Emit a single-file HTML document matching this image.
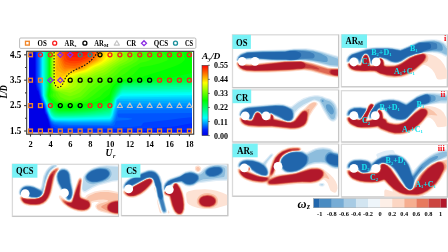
<!DOCTYPE html>
<html><head><meta charset="utf-8"><style>
html,body{margin:0;padding:0;background:#fff;}
body{width:448px;height:252px;position:relative;overflow:hidden;font-family:"Liberation Serif",serif;font-weight:bold;color:#000;}
svg{position:absolute;left:0;top:0;}
.t{font-family:"Liberation Serif",serif;font-weight:bold;}
</style></head><body>
<svg width="448" height="252" viewBox="0 0 448 252">

<svg x="28.9" y="52" width="163" height="80.6" viewBox="28.9 52 163 80.6" overflow="hidden">
<rect x="28" y="52" width="164" height="81" fill="#0000e6"/>
<path fill="#0014f5" fill-rule="evenodd" d="M191.9 132.9 51.2 132.9 50.1 126.9 48.6 122.1 48.1 119.7 46.9 117.4 46.2 114.9 45.4 114.1 44.9 112.9 44.4 109.6 43.7 107.6 43.4 105.4 43.1 104.8 41.9 104.2 41.3 103.4 40.4 99.6 39.7 97.9 39.4 95.6 38.7 93.9 38.3 91.4 38.1 91.0 37.4 90.5 36.8 89.6 36.5 88.4 36.1 85.4 35.8 84.9 35.5 84.1 35.2 78.9 35.2 52.1 191.9 52.1 191.9 132.9Z"/>
<path fill="#002bff" fill-rule="evenodd" d="M71.1 132.6 60.1 132.8 55.6 132.2 53.1 130.8 52.1 129.6 51.6 128.5 48.9 120.8 48.4 118.9 47.6 117.3 47.1 115.4 45.6 112.6 44.0 105.6 43.4 104.3 42.4 103.3 41.7 102.1 41.1 99.6 40.5 98.1 38.5 89.9 37.1 86.4 36.0 78.4 36.0 52.1 191.9 52.1 191.9 129.8 169.6 130.5 71.1 132.6Z"/>
<path fill="#0040ff" fill-rule="evenodd" d="M115.9 129.1 60.4 129.3 58.7 129.1 56.0 128.4 54.2 127.6 52.4 126.6 51.1 124.8 49.3 120.6 47.3 114.9 45.9 111.8 44.1 104.8 42.5 102.4 42.1 101.4 40.8 97.4 39.1 89.9 37.8 85.6 36.8 78.4 36.8 52.1 191.9 52.1 191.9 123.2 184.4 124.4 177.5 125.9 171.4 126.8 167.4 127.1 146.1 128.3 115.9 129.1Z"/>
<path fill="#0055ff" fill-rule="evenodd" d="M112.1 127.6 60.4 127.3 54.1 125.6 52.3 124.6 51.4 123.4 49.6 120.4 47.6 114.6 46.2 111.6 44.4 104.6 42.4 100.9 41.0 96.6 39.7 89.9 38.5 85.4 37.6 78.4 37.6 52.1 191.9 52.1 191.9 117.3 181.1 118.2 168.1 120.0 149.7 121.9 144.3 122.6 143.1 122.9 141.5 125.6 140.9 125.9 131.1 126.9 112.1 127.6Z"/>
<path fill="#006aff" fill-rule="evenodd" d="M110.9 126.1 60.4 125.7 54.4 124.6 53.2 123.9 51.4 122.2 50.2 120.6 49.0 117.9 47.9 114.6 46.5 111.4 44.7 104.6 42.7 100.6 41.1 95.6 40.1 88.7 39.3 85.4 38.4 78.4 38.4 52.1 191.9 52.1 191.9 113.1 118.6 113.4 117.9 114.6 117.7 115.6 118.0 116.6 118.6 117.4 128.1 118.1 131.8 118.6 132.2 118.9 130.0 119.6 128.1 119.9 116.6 120.7 115.5 121.9 114.8 124.4 114.3 125.1 113.1 125.8 110.9 126.1Z"/>
<path fill="#0080ff" fill-rule="evenodd" d="M109.6 124.9 70.4 124.9 60.4 124.5 55.1 123.8 54.1 123.4 51.1 121.2 50.4 120.2 49.1 117.5 48.1 114.5 46.8 111.4 45.0 104.6 43.0 100.4 41.4 95.6 39.2 78.4 39.2 52.1 191.9 52.1 191.9 109.2 118.6 109.9 117.6 111.6 116.7 114.6 116.0 118.1 114.9 120.6 112.4 123.8 110.9 124.6 109.6 124.9Z"/>
<path fill="#0095ff" fill-rule="evenodd" d="M109.6 123.6 70.4 123.8 64.9 123.6 55.1 122.8 52.1 121.3 51.1 120.6 49.1 116.8 48.1 113.7 47.0 111.1 45.3 104.6 43.1 99.9 41.8 95.6 39.9 78.4 39.9 52.1 191.9 52.1 191.9 106.1 118.6 106.7 117.4 109.3 114.3 119.6 113.5 120.9 112.1 122.2 110.6 123.3 109.6 123.6Z"/>
<path fill="#00aaff" fill-rule="evenodd" d="M92.4 122.6 70.4 122.8 55.4 122.1 52.4 120.9 51.1 119.9 49.1 116.0 48.3 113.4 47.1 110.7 45.6 104.6 43.4 99.6 42.1 95.6 41.6 91.6 41.3 85.6 40.4 78.4 40.4 52.1 191.9 52.1 191.9 103.2 118.6 103.7 117.6 105.8 116.1 110.6 113.8 118.6 112.9 120.1 111.4 121.6 110.4 122.2 109.4 122.5 92.4 122.6Z"/>
<path fill="#00bfff" fill-rule="evenodd" d="M74.1 121.9 69.4 121.9 55.1 121.4 52.4 120.3 51.6 119.8 51.1 119.2 49.4 115.8 47.2 109.9 45.9 104.6 43.7 99.6 42.7 96.6 42.4 95.4 42.0 91.6 41.7 85.4 40.9 78.4 40.9 52.1 191.9 52.1 191.9 100.4 118.6 100.9 117.6 101.5 116.9 105.9 115.1 110.9 113.8 116.1 113.2 118.1 112.1 119.9 110.4 121.2 109.4 121.5 74.1 121.9Z"/>
<path fill="#00d4ff" fill-rule="evenodd" d="M71.1 121.1 55.4 120.8 54.4 120.6 52.4 119.8 51.4 118.9 49.4 115.0 47.4 109.6 46.2 104.6 44.0 99.6 42.8 95.6 42.2 85.4 41.4 78.4 41.4 52.1 191.9 52.1 191.9 98.4 120.6 99.0 117.6 99.6 116.9 100.6 116.4 105.6 114.4 110.6 113.1 116.1 111.9 118.9 110.4 120.4 109.4 120.7 71.1 121.1Z"/>
<path fill="#00eaff" fill-rule="evenodd" d="M70.4 120.4 55.4 120.2 54.4 120.0 52.4 119.1 51.9 118.6 51.1 117.6 49.4 114.1 47.8 109.6 46.7 105.1 44.4 99.6 43.1 95.6 42.6 85.4 41.9 78.4 41.9 52.1 191.9 52.1 191.9 96.6 120.6 97.4 118.9 98.5 117.6 98.9 116.6 99.9 116.4 100.6 115.8 105.4 113.8 110.6 112.6 115.6 111.1 118.6 110.6 119.2 110.0 119.6 109.4 119.8 70.4 120.4Z"/>
<path fill="#00ffff" fill-rule="evenodd" d="M69.6 119.6 55.4 119.5 54.4 119.3 52.4 118.2 51.4 117.1 49.4 113.0 48.2 109.6 46.9 104.6 44.8 99.6 43.5 95.6 43.4 91.1 42.5 78.4 42.5 52.1 191.9 52.1 191.9 95.0 122.6 95.8 120.6 96.0 118.6 97.7 117.4 98.5 116.3 99.6 116.0 100.6 115.4 104.6 113.5 109.6 112.1 115.1 110.6 118.1 109.6 118.8 69.6 119.6Z"/>
<path fill="#00ffea" fill-rule="evenodd" d="M70.6 118.9 55.6 118.8 54.4 118.6 52.4 117.3 51.4 116.3 49.4 112.0 48.5 109.6 47.7 105.6 45.2 99.6 44.1 96.6 43.9 95.6 43.8 89.1 43.1 78.4 43.1 52.1 191.9 52.1 191.9 93.6 122.6 94.3 120.6 94.9 119.7 95.6 118.6 96.9 116.6 98.5 116.0 99.4 115.6 100.6 114.8 104.6 113.0 109.6 111.7 114.6 110.6 116.9 109.6 117.7 94.6 118.4 70.6 118.9Z"/>
<path fill="#00ffd4" fill-rule="evenodd" d="M71.9 118.1 60.1 118.2 55.1 118.0 53.6 117.3 51.4 115.4 49.8 112.1 48.9 109.6 48.1 105.6 45.6 99.6 44.5 96.6 44.3 95.6 44.4 91.6 44.3 87.1 43.7 78.4 43.7 52.1 191.9 52.1 191.9 92.1 122.6 92.8 119.6 94.7 118.1 96.5 116.6 97.8 115.7 99.1 115.2 100.6 114.4 104.4 112.5 109.6 111.2 114.1 110.6 115.6 109.6 116.6 93.9 117.5 71.9 118.1Z"/>
<path fill="#00ffbf" fill-rule="evenodd" d="M73.1 117.4 60.4 117.6 55.4 117.3 54.1 116.8 52.9 115.9 51.4 114.5 50.9 113.5 49.4 109.9 48.5 105.6 46.0 99.6 44.9 96.6 44.7 95.6 44.9 91.6 44.9 86.6 44.4 78.4 44.4 52.1 191.9 52.1 191.9 90.3 122.6 91.4 121.6 92.0 119.4 94.1 116.4 97.5 115.6 98.6 115.1 99.6 114.1 103.6 110.8 113.6 110.4 114.6 109.4 115.6 91.9 116.7 73.1 117.4Z"/>
<path fill="#00ffaa" fill-rule="evenodd" d="M60.9 116.9 55.1 116.4 54.0 115.9 51.4 113.5 49.8 109.9 48.9 105.6 46.7 100.6 45.3 96.6 45.1 95.4 45.6 86.4 45.0 78.4 45.0 52.1 191.9 52.1 191.9 88.4 123.6 90.0 122.6 90.3 121.4 91.1 118.7 93.9 115.4 98.1 114.7 99.6 113.8 103.1 110.6 112.6 109.4 114.3 99.1 115.3 86.4 116.2 79.4 116.5 60.9 116.9Z"/>
<path fill="#00ff95" fill-rule="evenodd" d="M64.1 116.1 59.4 116.2 55.4 115.7 54.1 115.1 51.9 113.1 51.1 112.2 50.5 110.6 49.3 105.6 47.1 100.6 45.7 96.6 45.5 95.4 46.2 85.6 45.7 78.4 45.7 52.1 191.9 52.1 191.9 86.6 160.6 87.6 124.6 88.5 123.6 88.8 122.4 89.3 121.1 90.2 118.1 93.6 115.2 97.6 114.4 99.4 110.6 111.1 109.4 112.9 99.9 114.2 89.4 115.1 79.4 115.7 64.1 116.1Z"/>
<path fill="#00ff80" fill-rule="evenodd" d="M64.9 115.4 59.4 115.4 55.4 114.8 54.4 114.2 52.1 112.5 51.4 111.6 50.9 110.6 49.8 105.6 47.5 100.6 46.1 96.6 45.9 95.4 46.8 85.4 46.3 78.4 46.3 52.1 191.9 52.1 191.9 85.1 124.6 87.2 122.6 88.0 120.6 89.5 117.2 93.6 115.0 97.1 114.1 98.9 110.6 109.5 109.4 111.5 100.4 113.0 89.6 114.2 79.4 114.9 64.9 115.4Z"/>
<path fill="#00ff6a" fill-rule="evenodd" d="M62.4 114.6 59.3 114.6 55.6 113.8 54.4 113.2 52.1 111.6 51.4 110.6 49.9 104.9 47.8 100.6 46.5 96.6 46.3 95.4 46.6 91.6 47.4 85.4 46.9 78.4 46.9 52.1 191.9 52.1 191.9 83.9 124.6 85.9 123.4 86.3 120.6 88.4 118.9 90.2 116.2 93.9 114.1 97.7 110.6 108.0 109.4 110.1 101.1 111.7 90.3 113.1 79.4 114.0 62.4 114.6Z"/>
<path fill="#00ff55" fill-rule="evenodd" d="M65.1 113.6 60.1 113.7 57.4 113.3 55.1 112.5 52.1 110.7 51.6 109.6 50.7 105.4 48.3 100.9 46.8 96.6 46.7 95.4 46.9 91.6 47.8 85.4 47.4 78.4 47.4 52.1 191.9 52.1 191.9 82.7 124.4 84.9 123.4 85.2 122.1 86.0 119.6 88.0 118.0 89.9 115.7 93.4 113.8 97.1 110.6 106.4 109.4 108.6 100.6 110.6 90.4 112.1 79.4 113.0 65.1 113.6Z"/>
<path fill="#00ff40" fill-rule="evenodd" d="M70.9 112.6 59.4 112.7 57.4 112.4 55.1 111.5 53.7 110.6 52.5 109.6 51.6 105.6 50.6 103.9 49.1 101.8 48.6 100.6 47.2 96.6 47.0 95.4 47.3 91.6 48.2 85.4 47.9 78.4 47.9 52.1 191.9 52.1 191.9 81.5 140.6 83.2 124.6 83.9 123.6 84.1 121.6 85.2 119.6 86.7 118.1 88.2 116.7 90.1 113.9 95.1 113.1 97.1 112.4 99.6 111.3 102.4 110.4 105.5 109.4 107.0 103.9 108.2 97.4 109.9 91.9 111.0 80.4 112.0 70.9 112.6Z"/>
<path fill="#00ff2a" fill-rule="evenodd" d="M72.6 111.6 69.4 111.8 60.1 111.7 58.1 111.6 56.1 110.9 54.5 109.6 53.6 107.9 52.9 105.6 52.3 104.6 49.4 101.3 48.9 100.6 47.6 96.6 47.4 95.4 47.7 92.4 48.6 85.6 48.4 78.4 48.4 52.1 191.9 52.1 191.9 80.3 140.6 82.1 124.6 82.9 123.6 83.1 121.4 84.1 119.4 85.5 117.6 87.2 116.1 89.1 113.0 94.9 110.4 103.3 109.4 105.3 99.6 107.3 90.4 110.0 85.5 110.6 72.6 111.6Z"/>
<path fill="#00ff15" fill-rule="evenodd" d="M70.6 110.9 59.4 110.7 58.3 110.6 57.4 110.3 56.5 109.6 53.5 104.4 49.1 100.1 48.0 96.6 47.8 95.6 48.1 92.4 48.9 88.4 49.1 85.6 48.8 78.4 48.8 52.1 191.9 52.1 191.9 78.8 183.9 79.4 140.6 81.0 123.6 82.1 121.0 83.1 118.9 84.4 117.0 86.1 115.1 88.5 113.9 90.6 112.4 93.6 111.6 96.0 110.6 100.2 109.4 102.8 103.0 104.6 95.4 106.3 89.4 108.0 82.0 109.6 70.6 110.9Z"/>
<path fill="#00ff00" fill-rule="evenodd" d="M70.4 109.6 68.4 109.6 60.4 108.6 58.9 108.1 58.1 107.4 56.9 105.6 55.1 104.3 52.7 101.9 49.6 99.4 48.4 96.4 48.2 95.4 49.2 90.6 49.5 86.4 49.3 78.4 49.3 52.1 191.9 52.1 191.9 72.9 187.6 74.1 177.1 76.3 168.5 78.4 153.7 79.4 139.6 79.9 124.6 81.0 122.1 81.5 119.9 82.4 117.9 83.6 115.2 86.1 114.0 87.6 112.8 89.6 111.7 92.1 110.4 97.2 109.4 99.9 105.9 101.3 99.4 103.2 90.4 105.3 78.9 107.4 70.4 109.6Z"/>
<path fill="#15ff00" fill-rule="evenodd" d="M69.4 106.1 65.8 105.6 60.4 105.2 59.4 104.9 56.9 103.6 55.1 102.5 51.1 98.9 49.4 96.6 49.2 95.4 49.9 92.6 50.0 91.4 49.7 78.4 49.7 52.1 183.2 52.1 184.9 59.1 184.6 60.1 181.4 62.9 177.5 65.1 173.9 66.6 161.6 70.7 144.1 76.1 140.6 77.4 139.4 78.4 132.8 79.4 123.6 80.1 120.6 80.7 118.9 81.4 117.1 82.4 114.9 84.1 112.7 86.4 111.4 88.9 109.4 94.6 107.0 96.6 103.1 99.4 100.4 100.6 88.1 103.6 69.4 106.1Z"/>
<path fill="#2aff00" fill-rule="evenodd" d="M70.4 104.1 60.4 103.6 59.4 103.4 57.4 102.3 55.5 100.9 51.4 97.2 50.8 96.4 50.6 95.4 51.6 92.4 50.7 88.4 50.1 79.4 50.1 52.1 162.8 52.1 165.5 55.4 168.1 59.1 167.5 60.1 167.0 60.4 163.4 61.9 159.1 63.4 150.9 65.5 140.6 67.3 139.6 67.8 133.4 74.2 130.9 76.1 128.2 77.9 127.3 78.4 123.4 78.9 119.1 79.8 116.9 80.7 114.1 82.3 112.8 83.4 111.6 84.6 109.4 88.3 103.8 92.4 100.1 96.4 94.8 99.6 91.9 100.6 83.9 102.5 79.4 103.2 70.4 104.1Z"/>
<path fill="#40ff00" fill-rule="evenodd" d="M71.9 102.6 69.1 102.8 60.4 102.2 59.4 101.9 57.3 100.6 54.9 98.0 53.1 96.6 52.5 95.6 53.6 92.6 53.1 91.6 52.1 90.4 51.6 89.2 51.1 87.0 50.9 84.4 50.5 78.4 50.5 52.1 150.3 52.1 151.6 59.1 150.3 60.1 146.2 61.4 140.6 62.7 136.4 65.4 131.4 68.1 127.6 71.5 124.6 73.8 120.4 76.2 117.4 78.4 112.6 80.6 109.4 83.4 105.6 85.6 100.4 89.2 97.6 91.4 93.6 95.1 90.4 97.3 87.3 99.6 84.8 100.6 80.4 101.6 71.9 102.6Z"/>
<path fill="#55ff00" fill-rule="evenodd" d="M71.1 101.4 69.1 101.5 60.4 100.8 59.4 100.4 58.6 99.6 57.6 98.0 55.8 95.6 55.7 92.6 53.3 90.4 52.2 88.6 51.5 85.6 50.9 79.4 50.9 52.1 139.5 52.1 138.7 59.1 138.1 60.1 136.4 61.5 131.4 64.5 123.2 68.4 120.6 70.4 116.9 74.2 114.1 76.3 98.4 85.7 90.4 92.1 85.7 96.6 82.1 99.1 81.2 99.6 79.4 100.2 71.1 101.4Z"/>
<path fill="#6aff00" fill-rule="evenodd" d="M70.4 99.9 69.1 99.9 65.7 99.4 62.9 98.3 60.4 97.1 58.8 95.1 57.8 92.6 54.1 90.1 53.1 88.9 52.5 87.6 51.9 85.4 51.3 78.4 51.3 52.1 133.8 52.1 133.6 59.1 132.6 60.4 127.1 63.5 119.1 67.1 117.5 68.4 113.7 72.4 110.6 74.8 105.6 77.7 99.1 80.8 95.4 83.1 89.6 87.8 82.0 95.4 80.4 96.7 72.6 99.4 70.4 99.9Z"/>
<path fill="#80ff00" fill-rule="evenodd" d="M70.6 96.2 69.4 96.3 65.6 94.9 61.4 93.1 58.4 91.5 56.1 90.7 54.2 89.1 52.9 87.1 52.4 85.4 51.7 78.4 51.7 52.1 128.0 52.1 128.5 59.1 127.8 60.1 124.6 61.9 120.4 63.9 114.6 67.4 113.2 68.4 108.7 72.4 104.6 75.0 95.3 78.4 92.6 79.6 89.3 82.1 87.9 83.6 85.9 86.4 80.4 92.0 79.4 92.8 75.6 94.5 70.6 96.2Z"/>
<path fill="#95ff00" fill-rule="evenodd" d="M70.6 92.7 69.4 92.8 66.1 91.9 60.1 91.2 57.1 90.4 56.1 89.9 54.9 88.9 54.0 87.9 53.3 86.6 53.0 85.4 52.1 78.4 52.1 52.1 123.5 52.1 123.6 59.1 122.7 60.1 119.6 61.8 114.6 65.1 110.5 67.4 106.1 70.9 103.6 72.4 95.4 75.2 91.1 77.3 86.9 78.4 84.1 79.4 82.6 82.0 81.5 85.4 80.4 86.9 78.6 88.5 76.4 90.0 73.9 91.3 70.6 92.7Z"/>
<path fill="#aaff00" fill-rule="evenodd" d="M67.6 90.1 60.4 90.3 57.4 89.7 56.4 89.3 55.4 88.5 53.8 86.4 53.5 85.4 52.6 78.4 52.6 52.1 120.3 52.1 119.2 59.1 118.5 60.1 117.4 61.0 113.4 63.6 106.7 67.4 103.6 69.5 102.1 70.2 98.6 71.6 95.4 72.7 91.1 75.1 89.6 75.7 80.4 77.9 79.2 78.4 78.1 79.4 76.7 84.9 76.6 85.4 75.8 86.4 73.4 88.0 70.4 89.6 69.4 89.9 67.6 90.1Z"/>
<path fill="#bfff00" fill-rule="evenodd" d="M63.4 89.1 60.1 89.4 57.1 88.9 56.1 88.4 55.1 87.4 54.4 86.4 54.1 85.4 53.2 78.4 53.2 52.1 117.1 52.1 116.1 59.1 115.3 60.1 114.7 60.6 106.0 65.9 95.4 70.7 90.4 73.5 89.1 74.0 80.4 76.2 76.0 78.4 74.7 79.4 72.9 83.5 71.7 85.4 71.1 85.9 69.1 87.4 67.8 88.1 65.6 88.8 63.4 89.1Z"/>
<path fill="#d4ff00" fill-rule="evenodd" d="M60.9 88.4 59.4 88.5 57.4 88.3 56.6 88.0 55.2 86.6 54.6 85.4 53.8 78.4 53.7 52.1 114.4 52.1 113.8 56.1 113.0 59.1 111.8 60.4 107.1 63.4 103.4 65.5 95.4 68.6 92.4 70.7 89.9 72.1 87.1 73.1 80.4 74.5 75.6 77.1 72.6 78.4 71.2 79.4 68.4 85.4 67.4 86.4 64.9 87.6 60.9 88.4Z"/>
<path fill="#eaff00" fill-rule="evenodd" d="M60.9 87.4 59.4 87.6 57.1 87.5 56.4 87.1 55.7 86.4 55.0 84.6 54.3 78.4 54.2 52.1 112.6 52.1 111.7 55.4 110.6 58.1 109.9 59.3 108.4 60.7 101.6 64.7 94.4 67.6 90.9 70.1 88.6 71.3 85.4 72.4 79.4 73.7 77.7 74.4 74.6 76.1 70.4 77.9 69.6 78.4 68.8 79.4 67.5 82.6 65.9 85.4 64.4 86.5 60.9 87.4Z"/>
<path fill="#ffff00" fill-rule="evenodd" d="M60.1 86.6 57.4 86.8 56.4 86.3 55.8 85.4 55.1 82.1 54.7 78.4 54.6 52.1 110.7 52.1 109.6 54.9 107.8 58.4 107.3 59.1 106.0 60.4 101.1 63.5 98.4 64.9 93.1 67.1 88.9 69.8 87.1 70.7 84.4 71.7 77.5 73.4 70.1 76.5 67.8 78.4 67.1 79.4 65.4 82.6 63.1 85.4 61.1 86.4 60.1 86.6Z"/>
<path fill="#ffea00" fill-rule="evenodd" d="M58.6 85.7 57.4 85.8 56.7 85.4 56.1 83.9 55.1 79.4 54.8 68.1 54.9 52.1 108.6 52.1 106.6 55.9 104.6 59.1 103.7 60.1 101.5 61.9 98.1 63.8 91.0 67.1 87.6 69.3 85.6 70.3 83.1 71.1 76.4 72.9 71.9 74.3 70.1 75.1 68.4 76.3 66.1 78.4 62.4 82.9 60.4 84.8 59.7 85.4 58.6 85.7Z"/>
<path fill="#ffd500" fill-rule="evenodd" d="M57.4 82.4 56.4 81.5 55.6 78.4 55.1 67.9 55.3 52.1 106.3 52.1 102.4 59.4 101.5 60.4 98.9 62.1 90.4 66.4 86.4 68.9 84.4 69.8 80.9 70.9 71.1 73.3 69.4 74.0 63.6 78.4 61.4 80.6 57.4 82.4Z"/>
<path fill="#ffbf00" fill-rule="evenodd" d="M57.1 77.1 56.4 77.4 55.6 68.4 55.8 52.1 103.9 52.1 102.3 55.4 100.7 59.1 99.9 60.1 97.1 62.0 89.6 65.7 85.4 68.4 83.1 69.4 80.4 70.3 69.4 72.7 67.6 73.6 65.1 75.5 62.1 76.6 61.1 76.8 59.1 76.8 57.1 77.1Z"/>
<path fill="#ffaa00" fill-rule="evenodd" d="M64.9 73.7 63.9 73.8 61.5 72.9 57.9 70.6 56.4 69.3 56.2 67.1 56.5 52.1 101.7 52.1 100.5 54.9 99.0 59.1 98.2 60.1 96.6 61.1 89.4 64.8 84.4 67.9 82.6 68.7 79.4 69.7 75.4 70.6 69.4 71.5 67.4 72.3 64.9 73.7Z"/>
<path fill="#ff9500" fill-rule="evenodd" d="M64.4 71.6 62.6 70.6 61.0 69.1 59.8 67.4 59.0 65.4 58.4 63.1 58.0 60.1 57.8 52.1 99.8 52.1 98.5 56.4 97.4 59.1 96.4 60.1 95.6 60.6 89.4 63.7 86.1 65.4 83.2 67.4 80.4 68.7 75.4 69.7 69.4 70.3 67.1 70.9 65.4 71.6 64.4 71.6Z"/>
<path fill="#ff8000" fill-rule="evenodd" d="M66.4 69.4 65.4 69.6 64.1 69.2 62.5 67.6 61.4 65.6 60.6 63.4 59.7 60.1 58.9 52.1 98.5 52.1 97.0 56.4 95.4 59.4 94.0 60.4 84.9 64.9 80.4 67.8 79.4 68.2 75.4 68.8 69.4 69.1 66.4 69.4Z"/>
<path fill="#ff6a00" fill-rule="evenodd" d="M74.6 67.9 65.4 67.5 64.4 66.9 62.7 64.1 61.3 60.4 60.6 57.1 60.0 52.1 97.3 52.1 96.4 54.6 94.9 57.4 93.8 59.1 92.5 60.1 83.6 64.1 79.4 66.9 74.6 67.9Z"/>
<path fill="#ff5500" fill-rule="evenodd" d="M74.9 65.9 69.4 65.5 65.4 64.5 64.9 64.1 64.1 63.1 62.7 60.1 62.0 56.9 61.1 52.1 96.1 52.1 93.7 56.6 92.4 58.4 91.4 59.4 88.4 60.9 83.1 62.8 79.4 64.8 74.9 65.9Z"/>
<path fill="#ff4000" fill-rule="evenodd" d="M75.4 63.4 70.4 63.3 69.4 63.1 65.4 61.5 64.4 60.4 64.1 59.7 62.3 52.1 94.7 52.1 93.5 54.4 92.4 55.9 90.4 58.0 88.4 59.6 87.4 60.1 83.1 61.3 79.4 62.8 75.4 63.4Z"/>
<path fill="#ff2a00" fill-rule="evenodd" d="M76.1 60.9 70.4 60.9 69.1 60.6 67.8 59.9 66.9 59.1 66.0 57.4 65.4 55.8 64.4 52.1 93.3 52.1 92.4 53.5 90.4 55.6 87.4 57.8 84.3 59.1 80.4 60.5 79.4 60.7 76.1 60.9Z"/>
<path fill="#ff1500" fill-rule="evenodd" d="M79.4 57.6 70.4 56.9 69.1 55.8 67.3 52.1 91.4 52.1 90.4 53.2 89.4 54.0 83.4 56.1 80.4 57.4 79.4 57.6Z"/>
<path fill="#ff0000" fill-rule="evenodd" d="M80.6 53.4 79.4 53.5 73.2 52.1 85.6 52.1 80.6 53.4Z"/>
</svg>
<path d="M54.1 52 L54.1 80 C54.3 85 56.5 87.5 58.8 87.3 C61.5 87 63 84 64.5 80 C66.5 75 71 71.5 77 69 C83 66.5 89 63 92.5 59 C95 56 96.5 54 97.5 52" fill="none" stroke="#111" stroke-width="1.1" stroke-dasharray="1.6 1.4"/>
<rect x="28.60" y="52.90" width="3.8" height="3.8" fill="none" stroke="#f0862a" stroke-width="1.35"/>
<circle cx="40.43" cy="54.80" r="2.0" fill="none" stroke="#fa1c1c" stroke-width="1.3"/>
<circle cx="50.36" cy="54.80" r="2.0" fill="none" stroke="#fa1c1c" stroke-width="1.3"/>
<path d="M60.29 52.30L62.79 54.80L60.29 57.30L57.79 54.80Z" fill="none" stroke="#8a2be2" stroke-width="1.3"/>
<path d="M70.22 52.30L72.72 54.80L70.22 57.30L67.72 54.80Z" fill="none" stroke="#8a2be2" stroke-width="1.3"/>
<circle cx="80.15" cy="54.80" r="2.0" fill="none" stroke="#1a8f9a" stroke-width="1.3"/>
<circle cx="90.08" cy="54.80" r="2.0" fill="none" stroke="#1a8f9a" stroke-width="1.3"/>
<circle cx="100.01" cy="54.80" r="2.0" fill="none" stroke="#000" stroke-width="1.3"/>
<circle cx="109.94" cy="54.80" r="2.0" fill="none" stroke="#fa1c1c" stroke-width="1.3"/>
<circle cx="119.87" cy="54.80" r="2.0" fill="none" stroke="#fa1c1c" stroke-width="1.3"/>
<circle cx="129.80" cy="54.80" r="2.0" fill="none" stroke="#fa1c1c" stroke-width="1.3"/>
<circle cx="139.73" cy="54.80" r="2.0" fill="none" stroke="#fa1c1c" stroke-width="1.3"/>
<circle cx="149.66" cy="54.80" r="2.0" fill="none" stroke="#fa1c1c" stroke-width="1.3"/>
<circle cx="159.59" cy="54.80" r="2.0" fill="none" stroke="#fa1c1c" stroke-width="1.3"/>
<circle cx="169.52" cy="54.80" r="2.0" fill="none" stroke="#fa1c1c" stroke-width="1.3"/>
<circle cx="179.45" cy="54.80" r="2.0" fill="none" stroke="#fa1c1c" stroke-width="1.3"/>
<circle cx="189.38" cy="54.80" r="2.0" fill="none" stroke="#fa1c1c" stroke-width="1.3"/>
<rect x="28.60" y="78.30" width="3.8" height="3.8" fill="none" stroke="#f0862a" stroke-width="1.35"/>
<rect x="38.53" y="78.30" width="3.8" height="3.8" fill="none" stroke="#f0862a" stroke-width="1.35"/>
<path d="M50.36 77.70L52.86 80.20L50.36 82.70L47.86 80.20Z" fill="none" stroke="#8a2be2" stroke-width="1.3"/>
<path d="M60.29 77.70L62.79 80.20L60.29 82.70L57.79 80.20Z" fill="none" stroke="#8a2be2" stroke-width="1.3"/>
<circle cx="70.22" cy="80.20" r="2.0" fill="none" stroke="#000" stroke-width="1.3"/>
<circle cx="80.15" cy="80.20" r="2.0" fill="none" stroke="#000" stroke-width="1.3"/>
<circle cx="90.08" cy="80.20" r="2.0" fill="none" stroke="#000" stroke-width="1.3"/>
<circle cx="100.01" cy="80.20" r="2.0" fill="none" stroke="#000" stroke-width="1.3"/>
<circle cx="109.94" cy="80.20" r="2.0" fill="none" stroke="#000" stroke-width="1.3"/>
<circle cx="119.87" cy="80.20" r="2.0" fill="none" stroke="#000" stroke-width="1.3"/>
<circle cx="129.80" cy="80.20" r="2.0" fill="none" stroke="#000" stroke-width="1.3"/>
<circle cx="139.73" cy="80.20" r="2.0" fill="none" stroke="#000" stroke-width="1.3"/>
<circle cx="149.66" cy="80.20" r="2.0" fill="none" stroke="#000" stroke-width="1.3"/>
<circle cx="159.59" cy="80.20" r="2.0" fill="none" stroke="#fa1c1c" stroke-width="1.3"/>
<circle cx="169.52" cy="80.20" r="2.0" fill="none" stroke="#fa1c1c" stroke-width="1.3"/>
<circle cx="179.45" cy="80.20" r="2.0" fill="none" stroke="#fa1c1c" stroke-width="1.3"/>
<circle cx="189.38" cy="80.20" r="2.0" fill="none" stroke="#fa1c1c" stroke-width="1.3"/>
<rect x="28.60" y="103.70" width="3.8" height="3.8" fill="none" stroke="#f0862a" stroke-width="1.35"/>
<rect x="38.53" y="103.70" width="3.8" height="3.8" fill="none" stroke="#f0862a" stroke-width="1.35"/>
<circle cx="50.36" cy="105.60" r="2.0" fill="none" stroke="#fa1c1c" stroke-width="1.3"/>
<circle cx="60.29" cy="105.60" r="2.0" fill="none" stroke="#000" stroke-width="1.3"/>
<circle cx="70.22" cy="105.60" r="2.0" fill="none" stroke="#000" stroke-width="1.3"/>
<circle cx="80.15" cy="105.60" r="2.0" fill="none" stroke="#000" stroke-width="1.3"/>
<circle cx="90.08" cy="105.60" r="2.0" fill="none" stroke="#fa1c1c" stroke-width="1.3"/>
<circle cx="100.01" cy="105.60" r="2.0" fill="none" stroke="#fa1c1c" stroke-width="1.3"/>
<circle cx="109.94" cy="105.60" r="2.0" fill="none" stroke="#fa1c1c" stroke-width="1.3"/>
<path d="M119.87 103.10L122.47 107.50L117.27 107.50Z" fill="none" stroke="#c4c4c4" stroke-width="1.15" stroke-linejoin="round"/>
<path d="M129.80 103.10L132.40 107.50L127.20 107.50Z" fill="none" stroke="#c4c4c4" stroke-width="1.15" stroke-linejoin="round"/>
<path d="M139.73 103.10L142.33 107.50L137.13 107.50Z" fill="none" stroke="#c4c4c4" stroke-width="1.15" stroke-linejoin="round"/>
<path d="M149.66 103.10L152.26 107.50L147.06 107.50Z" fill="none" stroke="#c4c4c4" stroke-width="1.15" stroke-linejoin="round"/>
<path d="M159.59 103.10L162.19 107.50L156.99 107.50Z" fill="none" stroke="#c4c4c4" stroke-width="1.15" stroke-linejoin="round"/>
<path d="M169.52 103.10L172.12 107.50L166.92 107.50Z" fill="none" stroke="#c4c4c4" stroke-width="1.15" stroke-linejoin="round"/>
<path d="M179.45 103.10L182.05 107.50L176.85 107.50Z" fill="none" stroke="#c4c4c4" stroke-width="1.15" stroke-linejoin="round"/>
<path d="M189.38 103.10L191.98 107.50L186.78 107.50Z" fill="none" stroke="#c4c4c4" stroke-width="1.15" stroke-linejoin="round"/>
<rect x="28.60" y="129.10" width="3.8" height="3.8" fill="none" stroke="#f0862a" stroke-width="1.35"/>
<rect x="38.53" y="129.10" width="3.8" height="3.8" fill="none" stroke="#f0862a" stroke-width="1.35"/>
<rect x="48.46" y="129.10" width="3.8" height="3.8" fill="none" stroke="#f0862a" stroke-width="1.35"/>
<rect x="58.39" y="129.10" width="3.8" height="3.8" fill="none" stroke="#f0862a" stroke-width="1.35"/>
<rect x="68.32" y="129.10" width="3.8" height="3.8" fill="none" stroke="#f0862a" stroke-width="1.35"/>
<rect x="78.25" y="129.10" width="3.8" height="3.8" fill="none" stroke="#f0862a" stroke-width="1.35"/>
<rect x="88.18" y="129.10" width="3.8" height="3.8" fill="none" stroke="#f0862a" stroke-width="1.35"/>
<rect x="98.11" y="129.10" width="3.8" height="3.8" fill="none" stroke="#f0862a" stroke-width="1.35"/>
<rect x="108.04" y="129.10" width="3.8" height="3.8" fill="none" stroke="#f0862a" stroke-width="1.35"/>
<rect x="117.97" y="129.10" width="3.8" height="3.8" fill="none" stroke="#f0862a" stroke-width="1.35"/>
<rect x="127.90" y="129.10" width="3.8" height="3.8" fill="none" stroke="#f0862a" stroke-width="1.35"/>
<rect x="137.83" y="129.10" width="3.8" height="3.8" fill="none" stroke="#f0862a" stroke-width="1.35"/>
<rect x="147.76" y="129.10" width="3.8" height="3.8" fill="none" stroke="#f0862a" stroke-width="1.35"/>
<rect x="157.69" y="129.10" width="3.8" height="3.8" fill="none" stroke="#f0862a" stroke-width="1.35"/>
<rect x="167.62" y="129.10" width="3.8" height="3.8" fill="none" stroke="#f0862a" stroke-width="1.35"/>
<rect x="177.55" y="129.10" width="3.8" height="3.8" fill="none" stroke="#f0862a" stroke-width="1.35"/>
<rect x="187.48" y="129.10" width="3.8" height="3.8" fill="none" stroke="#f0862a" stroke-width="1.35"/>
<rect x="26.7" y="51.3" width="167" height="82.9" fill="none" stroke="#333" stroke-width="1.1"/>
<line x1="30.50" y1="134" x2="30.50" y2="136.60" stroke="#3a3a3a" stroke-width="1.1"/>
<line x1="40.43" y1="134" x2="40.43" y2="135.70" stroke="#3a3a3a" stroke-width="1.1"/>
<line x1="50.36" y1="134" x2="50.36" y2="136.60" stroke="#3a3a3a" stroke-width="1.1"/>
<line x1="60.29" y1="134" x2="60.29" y2="135.70" stroke="#3a3a3a" stroke-width="1.1"/>
<line x1="70.22" y1="134" x2="70.22" y2="136.60" stroke="#3a3a3a" stroke-width="1.1"/>
<line x1="80.15" y1="134" x2="80.15" y2="135.70" stroke="#3a3a3a" stroke-width="1.1"/>
<line x1="90.08" y1="134" x2="90.08" y2="136.60" stroke="#3a3a3a" stroke-width="1.1"/>
<line x1="100.01" y1="134" x2="100.01" y2="135.70" stroke="#3a3a3a" stroke-width="1.1"/>
<line x1="109.94" y1="134" x2="109.94" y2="136.60" stroke="#3a3a3a" stroke-width="1.1"/>
<line x1="119.87" y1="134" x2="119.87" y2="135.70" stroke="#3a3a3a" stroke-width="1.1"/>
<line x1="129.80" y1="134" x2="129.80" y2="136.60" stroke="#3a3a3a" stroke-width="1.1"/>
<line x1="139.73" y1="134" x2="139.73" y2="135.70" stroke="#3a3a3a" stroke-width="1.1"/>
<line x1="149.66" y1="134" x2="149.66" y2="136.60" stroke="#3a3a3a" stroke-width="1.1"/>
<line x1="159.59" y1="134" x2="159.59" y2="135.70" stroke="#3a3a3a" stroke-width="1.1"/>
<line x1="169.52" y1="134" x2="169.52" y2="136.60" stroke="#3a3a3a" stroke-width="1.1"/>
<line x1="179.45" y1="134" x2="179.45" y2="135.70" stroke="#3a3a3a" stroke-width="1.1"/>
<line x1="189.38" y1="134" x2="189.38" y2="136.60" stroke="#3a3a3a" stroke-width="1.1"/>
<line x1="26.7" y1="131.00" x2="24.10" y2="131.00" stroke="#3a3a3a" stroke-width="1.1"/>
<line x1="26.7" y1="118.30" x2="25.00" y2="118.30" stroke="#3a3a3a" stroke-width="1.1"/>
<line x1="26.7" y1="105.60" x2="24.10" y2="105.60" stroke="#3a3a3a" stroke-width="1.1"/>
<line x1="26.7" y1="92.90" x2="25.00" y2="92.90" stroke="#3a3a3a" stroke-width="1.1"/>
<line x1="26.7" y1="80.20" x2="24.10" y2="80.20" stroke="#3a3a3a" stroke-width="1.1"/>
<line x1="26.7" y1="67.50" x2="25.00" y2="67.50" stroke="#3a3a3a" stroke-width="1.1"/>
<line x1="26.7" y1="54.80" x2="24.10" y2="54.80" stroke="#3a3a3a" stroke-width="1.1"/>
<text x="9.9" y="57.50" font-size="9.8" textLength="11.3" lengthAdjust="spacingAndGlyphs" class="t">4.5</text>
<text x="9.9" y="82.90" font-size="9.8" textLength="11.3" lengthAdjust="spacingAndGlyphs" class="t">3.5</text>
<text x="9.9" y="108.30" font-size="9.8" textLength="11.3" lengthAdjust="spacingAndGlyphs" class="t">2.5</text>
<text x="9.9" y="133.70" font-size="9.8" textLength="11.3" lengthAdjust="spacingAndGlyphs" class="t">1.5</text>
<text x="28.60" y="146.5" font-size="9.1" textLength="4.2" lengthAdjust="spacingAndGlyphs" class="t">2</text>
<text x="48.46" y="146.5" font-size="9.1" textLength="4.2" lengthAdjust="spacingAndGlyphs" class="t">4</text>
<text x="68.32" y="146.5" font-size="9.1" textLength="4.2" lengthAdjust="spacingAndGlyphs" class="t">6</text>
<text x="88.18" y="146.5" font-size="9.1" textLength="4.2" lengthAdjust="spacingAndGlyphs" class="t">8</text>
<text x="106.04" y="146.5" font-size="9.1" textLength="8.2" lengthAdjust="spacingAndGlyphs" class="t">10</text>
<text x="125.90" y="146.5" font-size="9.1" textLength="8.2" lengthAdjust="spacingAndGlyphs" class="t">12</text>
<text x="145.76" y="146.5" font-size="9.1" textLength="8.2" lengthAdjust="spacingAndGlyphs" class="t">14</text>
<text x="165.62" y="146.5" font-size="9.1" textLength="8.2" lengthAdjust="spacingAndGlyphs" class="t">16</text>
<text x="185.48" y="146.5" font-size="9.1" textLength="8.2" lengthAdjust="spacingAndGlyphs" class="t">18</text>
<text x="105.6" y="155.5" font-size="9.4" class="t" font-style="italic">U<tspan font-size="6" dx="0.6" dy="2">r</tspan></text>
<text transform="translate(6.6,98.6) rotate(-90)" font-size="9.8" textLength="13.4" lengthAdjust="spacingAndGlyphs" class="t" font-style="italic">L/D</text>
<defs><linearGradient id="jet" x1="0" y1="1" x2="0" y2="0">
<stop offset="0" stop-color="#0000e6"/><stop offset="0.08" stop-color="#0020ff"/><stop offset="0.25" stop-color="#00ffff"/><stop offset="0.5" stop-color="#00ff00"/><stop offset="0.75" stop-color="#ffff00"/><stop offset="0.87" stop-color="#ff8000"/><stop offset="1" stop-color="#ff0000"/></linearGradient></defs>
<rect x="202" y="65.3" width="6.1" height="70.3" fill="url(#jet)" stroke="#444" stroke-width="0.6"/>
<line x1="208.1" y1="135.60" x2="209.8" y2="135.60" stroke="#333" stroke-width="0.7"/>
<text x="213.9" y="138.60" font-size="8.6" textLength="14" lengthAdjust="spacingAndGlyphs" class="t">0.00</text>
<line x1="208.1" y1="121.54" x2="209.8" y2="121.54" stroke="#333" stroke-width="0.7"/>
<text x="213.9" y="124.54" font-size="8.6" textLength="14" lengthAdjust="spacingAndGlyphs" class="t">0.11</text>
<line x1="208.1" y1="107.48" x2="209.8" y2="107.48" stroke="#333" stroke-width="0.7"/>
<text x="213.9" y="110.48" font-size="8.6" textLength="14" lengthAdjust="spacingAndGlyphs" class="t">0.22</text>
<line x1="208.1" y1="93.42" x2="209.8" y2="93.42" stroke="#333" stroke-width="0.7"/>
<text x="213.9" y="96.42" font-size="8.6" textLength="14" lengthAdjust="spacingAndGlyphs" class="t">0.33</text>
<line x1="208.1" y1="79.36" x2="209.8" y2="79.36" stroke="#333" stroke-width="0.7"/>
<text x="213.9" y="82.36" font-size="8.6" textLength="14" lengthAdjust="spacingAndGlyphs" class="t">0.44</text>
<line x1="208.1" y1="65.30" x2="209.8" y2="65.30" stroke="#333" stroke-width="0.7"/>
<text x="213.9" y="68.30" font-size="8.6" textLength="14" lengthAdjust="spacingAndGlyphs" class="t">0.55</text>
<text x="202" y="58.9" font-size="8.6" class="t" font-style="italic" textLength="18.4" lengthAdjust="spacingAndGlyphs">A<tspan font-size="5.6" dy="2">y</tspan><tspan dy="-2">/D</tspan></text>
<rect x="19.6" y="38" width="176.3" height="10.4" rx="1.2" fill="#fff" stroke="#aaa" stroke-width="0.8"/>
<rect x="25.50" y="41.30" width="3.8" height="3.8" fill="none" stroke="#f0862a" stroke-width="1.35"/>
<text x="37.60" y="45.8" font-size="8" textLength="9.2" lengthAdjust="spacingAndGlyphs" class="t">OS</text>
<circle cx="54.70" cy="43.20" r="2.0" fill="none" stroke="#fa1c1c" stroke-width="1.3"/>
<text x="64.60" y="45.8" font-size="8" textLength="9.6" lengthAdjust="spacingAndGlyphs" class="t">AR</text>
<text x="74.40" y="47.2" font-size="4.8" class="t">s</text>
<circle cx="84.90" cy="43.20" r="2.0" fill="none" stroke="#000" stroke-width="1.3"/>
<text x="94.30" y="45.8" font-size="8" textLength="9.6" lengthAdjust="spacingAndGlyphs" class="t">AR</text>
<text x="104.10" y="47.2" font-size="4.8" class="t">M</text>
<path d="M116.80 40.70L119.40 45.10L114.20 45.10Z" fill="none" stroke="#c4c4c4" stroke-width="1.15" stroke-linejoin="round"/>
<text x="126.40" y="45.8" font-size="8" textLength="9.7" lengthAdjust="spacingAndGlyphs" class="t">CR</text>
<path d="M144.00 40.70L146.50 43.20L144.00 45.70L141.50 43.20Z" fill="none" stroke="#8a2be2" stroke-width="1.3"/>
<text x="153.80" y="45.8" font-size="8" textLength="14.5" lengthAdjust="spacingAndGlyphs" class="t">QCS</text>
<circle cx="175.50" cy="43.20" r="2.0" fill="none" stroke="#1a8f9a" stroke-width="1.3"/>
<text x="184.90" y="45.8" font-size="8" textLength="8.3" lengthAdjust="spacingAndGlyphs" class="t">CS</text>
</svg>
<svg width="448" height="252" viewBox="0 0 448 252"><defs>
<filter id="fh" x="-30%" y="-30%" width="160%" height="160%"><feGaussianBlur stdDeviation="1.5"/></filter>
<filter id="fm" x="-30%" y="-30%" width="160%" height="160%"><feGaussianBlur stdDeviation="0.8"/></filter>
<filter id="fc" x="-30%" y="-30%" width="160%" height="160%"><feGaussianBlur stdDeviation="0.45"/></filter>

<clipPath id="cpOS"><rect x="233.0" y="35.0" width="105.1" height="52.1"/></clipPath>
<clipPath id="cpARM"><rect x="341.9" y="35.0" width="105.0" height="51.3"/></clipPath>
<clipPath id="cpCR"><rect x="233.0" y="90.1" width="105.1" height="51.4"/></clipPath>
<clipPath id="cpII"><rect x="341.9" y="90.9" width="105.0" height="50.6"/></clipPath>
<clipPath id="cpARS"><rect x="233.0" y="144.2" width="105.1" height="51.5"/></clipPath>
<clipPath id="cpIII"><rect x="341.9" y="144.5" width="105.0" height="52.0"/></clipPath>
<clipPath id="cpQCS"><rect x="12.9" y="164.5" width="105.1" height="51.4"/></clipPath>
<clipPath id="cpCS"><rect x="121.9" y="164.5" width="105.4" height="50.6"/></clipPath>
</defs>
<rect x="232.5" y="34.8" width="106.1" height="52.8" fill="#fff" stroke="#dadada" stroke-width="1.3"/>
<path d="M338.6 34.8L338.6 87.6L232.5 87.6" fill="none" stroke="#c6c6c6" stroke-width="1.1"/>
<rect x="341.4" y="34.8" width="106.0" height="52.0" fill="#fff" stroke="#dadada" stroke-width="1.3"/>
<path d="M447.4 34.8L447.4 86.8L341.4 86.8" fill="none" stroke="#c6c6c6" stroke-width="1.1"/>
<rect x="232.5" y="89.9" width="106.1" height="52.1" fill="#fff" stroke="#dadada" stroke-width="1.3"/>
<path d="M338.6 89.9L338.6 142.0L232.5 142.0" fill="none" stroke="#c6c6c6" stroke-width="1.1"/>
<rect x="341.4" y="90.7" width="106.0" height="51.3" fill="#fff" stroke="#dadada" stroke-width="1.3"/>
<path d="M447.4 90.7L447.4 142.0L341.4 142.0" fill="none" stroke="#c6c6c6" stroke-width="1.1"/>
<rect x="232.5" y="144.0" width="106.1" height="52.2" fill="#fff" stroke="#dadada" stroke-width="1.3"/>
<path d="M338.6 144.0L338.6 196.2L232.5 196.2" fill="none" stroke="#c6c6c6" stroke-width="1.1"/>
<rect x="341.4" y="144.3" width="106.0" height="52.7" fill="#fff" stroke="#dadada" stroke-width="1.3"/>
<path d="M447.4 144.3L447.4 197.0L341.4 197.0" fill="none" stroke="#c6c6c6" stroke-width="1.1"/>
<rect x="12.4" y="164.3" width="106.1" height="52.1" fill="#fff" stroke="#dadada" stroke-width="1.3"/>
<path d="M118.5 164.3L118.5 216.4L12.4 216.4" fill="none" stroke="#c6c6c6" stroke-width="1.1"/>
<rect x="121.4" y="164.3" width="106.4" height="51.3" fill="#fff" stroke="#dadada" stroke-width="1.3"/>
<path d="M227.8 164.3L227.8 215.6L121.4 215.6" fill="none" stroke="#c6c6c6" stroke-width="1.1"/>
<g clip-path="url(#cpOS)">
<path fill="#fde2d4" fill-rule="evenodd" d="M338.4 77.7 335.4 77.5 328.1 76.3 310.9 71.4 303.6 70.4 288.9 71.7 267.1 72.7 254.9 72.7 246.6 72.2 242.6 71.2 239.1 69.2 237.8 67.9 236.7 66.1 236.2 64.6 236.1 63.1 236.9 62.0 238.9 61.7 241.1 61.9 245.1 63.6 248.9 63.8 255.4 63.4 269.9 61.8 284.6 61.0 301.6 60.8 312.4 62.8 328.4 67.4 332.4 67.9 338.4 68.1 338.4 77.7Z"/>
<path fill="#f9c3a9" fill-rule="evenodd" d="M338.4 77.0 335.1 76.8 328.4 75.5 311.6 70.8 304.1 69.7 289.1 70.9 267.4 72.0 254.9 72.0 246.9 71.5 242.9 70.5 239.6 68.7 237.5 66.1 236.8 64.4 236.8 63.1 237.6 62.1 239.9 62.0 244.4 64.1 249.4 64.5 255.1 64.1 271.6 62.2 284.4 61.2 301.4 61.0 312.4 63.3 328.1 67.9 331.1 68.3 338.4 68.4 338.4 77.0Z"/>
<path fill="#f19b7e" fill-rule="evenodd" d="M338.4 76.5 332.4 75.8 324.6 74.0 311.6 70.2 304.6 69.2 289.1 70.5 267.4 71.5 254.9 71.5 246.9 71.1 243.4 70.2 240.1 68.5 238.0 66.1 237.2 63.4 237.9 62.4 239.6 62.2 244.3 64.6 249.6 65.0 284.6 61.4 301.1 61.2 306.1 62.6 312.4 63.9 328.1 68.5 338.4 68.8 338.4 76.5Z"/>
<path fill="#de6852" fill-rule="evenodd" d="M338.4 76.1 333.4 75.5 311.9 69.6 305.4 68.7 292.9 69.8 274.9 70.8 255.9 71.1 247.1 70.7 243.4 69.8 240.4 68.2 238.4 65.9 237.7 64.4 237.7 63.4 238.3 62.6 239.4 62.5 243.9 64.9 246.1 65.3 249.4 65.4 255.1 65.0 284.9 61.7 301.1 61.5 306.1 63.2 312.1 64.4 327.9 69.2 338.4 69.1 338.4 76.1Z"/>
<path fill="#c73d3b" fill-rule="evenodd" d="M268.4 70.6 254.6 70.7 245.4 70.0 242.4 68.9 240.3 67.6 238.7 65.6 238.1 63.6 238.6 62.9 239.4 62.9 243.9 65.3 246.1 65.7 249.4 65.8 255.1 65.4 284.9 62.0 300.6 61.7 303.1 62.3 306.9 64.2 311.3 65.4 316.2 67.1 318.2 68.1 319.4 69.1 319.1 69.4 317.9 69.4 310.6 68.3 305.9 67.9 301.4 68.7 297.9 68.8 292.9 69.4 268.4 70.6ZM338.4 75.7 334.6 75.4 330.6 74.1 329.3 72.6 329.4 70.9 330.1 70.1 331.6 69.6 338.4 69.5 338.4 75.7Z"/>
<path fill="#b2182b" fill-rule="evenodd" d="M269.4 70.1 254.9 70.3 245.8 69.6 242.7 68.6 240.7 67.4 239.2 65.6 238.7 63.9 239.1 63.5 239.6 63.5 242.4 65.2 244.4 65.9 249.4 66.2 255.4 65.8 285.1 62.4 300.4 61.9 302.1 62.2 303.6 62.9 304.9 63.9 305.5 65.1 305.3 66.4 304.6 67.2 303.4 67.9 301.4 68.4 297.9 68.4 289.1 69.2 269.4 70.1ZM338.4 75.2 334.7 74.9 331.5 73.9 330.5 72.6 330.7 70.9 331.4 70.3 332.4 70.0 338.4 70.0 338.4 75.2Z"/>
<path fill="#e0edf7" fill-rule="evenodd" d="M338.4 67.6 329.9 66.8 312.9 62.1 301.4 60.5 271.9 61.0 249.6 59.7 244.9 60.1 240.6 61.3 238.4 61.4 237.1 61.3 236.4 60.9 236.0 59.4 236.9 56.6 239.4 53.9 241.4 52.7 247.1 50.7 262.4 50.0 285.1 49.4 293.9 48.4 306.1 48.3 312.4 49.0 318.4 50.3 322.9 51.4 332.6 54.6 338.4 56.0 338.4 67.6Z"/>
<path fill="#bad8eb" fill-rule="evenodd" d="M338.4 67.1 329.9 66.0 313.6 61.7 305.4 60.4 299.6 60.1 290.6 60.6 272.6 60.6 249.6 59.0 243.8 59.6 240.1 61.0 238.6 61.2 237.1 60.8 236.7 59.4 237.8 56.6 240.1 54.2 241.9 53.3 247.4 51.5 262.6 50.8 285.4 50.3 294.1 49.3 306.1 49.2 312.6 50.0 318.4 51.2 322.4 52.3 332.2 55.6 338.4 57.2 338.4 67.1Z"/>
<path fill="#8dbddd" fill-rule="evenodd" d="M338.4 65.7 330.1 65.1 313.6 61.0 305.6 59.9 299.6 59.8 290.6 60.4 286.1 60.2 277.1 60.3 249.6 58.5 243.4 59.2 238.9 61.0 237.6 60.6 237.2 59.4 238.2 56.9 240.4 54.6 242.1 53.7 247.4 51.9 262.6 51.3 285.4 50.8 293.9 49.8 305.6 49.8 313.4 50.8 320.9 52.7 338.4 58.8 338.4 65.7Z"/>
<path fill="#5c9ccc" fill-rule="evenodd" d="M326.6 62.1 323.9 62.1 313.1 60.2 305.4 59.3 300.1 59.4 295.6 60.0 291.1 60.2 286.1 59.9 277.6 60.0 249.4 58.1 243.1 58.9 238.9 60.7 238.0 60.4 237.6 59.4 238.5 57.1 240.6 55.0 242.4 54.0 247.6 52.3 262.9 51.6 285.4 51.3 289.6 50.5 293.4 50.2 302.9 50.3 309.6 50.9 313.7 51.6 320.5 53.6 323.5 54.9 326.4 56.6 327.5 58.1 327.8 60.6 327.3 61.6 326.6 62.1Z"/>
<path fill="#3c7eba" fill-rule="evenodd" d="M239.4 60.2 238.6 60.2 238.2 59.9 238.2 58.6 239.2 56.9 240.9 55.3 246.6 52.8 250.1 52.4 285.1 51.7 290.1 50.8 295.1 50.6 305.1 51.3 310.0 52.1 313.4 53.6 314.3 54.6 314.7 56.1 314.2 57.6 312.9 58.4 301.1 58.7 294.4 59.9 289.9 60.0 286.1 59.6 272.4 59.4 249.6 57.8 242.9 58.5 239.4 60.2Z"/>
<path fill="#2166ac" fill-rule="evenodd" d="M294.9 59.6 289.9 59.8 285.9 59.2 272.4 59.0 250.1 57.4 243.1 58.0 239.4 59.6 238.9 59.4 238.8 58.9 239.4 57.4 241.1 55.6 247.6 52.9 263.1 52.3 285.1 52.0 289.6 51.1 293.9 50.9 296.4 51.2 299.8 52.6 300.8 53.6 301.3 54.9 300.9 56.6 299.5 58.1 297.6 59.1 294.9 59.6Z"/>
<circle cx="242.2" cy="61.3" r="4.4" fill="#fff"/>
<circle cx="255.0" cy="61.3" r="4.4" fill="#fff"/>
</g>
<g clip-path="url(#cpARM)">
<path fill="#fde2d4" fill-rule="evenodd" d="M441.0 79.4 438.5 79.6 437.3 79.1 436.5 78.0 434.5 73.1 432.0 69.6 428.3 66.5 424.8 65.1 423.5 65.1 422.3 65.6 415.5 71.3 411.5 73.8 407.5 75.8 401.5 77.6 395.3 78.1 389.0 77.7 385.3 77.0 379.8 75.3 375.8 73.0 374.0 72.5 361.3 72.5 356.8 72.2 353.3 71.5 350.8 70.5 348.7 68.9 347.2 66.6 346.7 64.6 347.0 63.9 347.9 63.1 350.0 62.1 351.3 61.8 355.8 63.0 359.3 64.6 360.3 64.6 361.1 63.6 362.0 59.1 362.9 56.6 364.0 55.0 365.5 54.3 367.0 54.6 368.3 56.0 369.2 58.6 370.3 64.1 370.8 64.9 371.8 65.2 376.2 63.9 378.3 62.9 378.7 61.9 378.7 59.1 379.1 58.4 380.0 57.8 381.8 58.3 383.7 59.9 384.4 61.1 385.2 63.9 385.8 64.3 390.5 64.6 394.8 64.5 397.8 63.9 400.5 62.8 408.2 57.9 413.2 55.6 416.8 54.4 422.0 53.2 425.0 53.1 431.0 54.4 436.0 56.6 440.8 60.3 444.0 64.4 446.5 69.8 447.3 70.6 447.3 78.5 441.0 79.4Z"/>
<path fill="#f9c3a9" fill-rule="evenodd" d="M398.3 77.1 394.3 77.3 386.8 76.5 380.8 74.8 378.3 73.7 376.2 72.4 374.3 71.8 361.8 71.9 356.8 71.5 354.0 71.0 351.3 70.0 349.3 68.5 347.8 66.4 347.4 64.4 348.4 63.1 350.8 62.3 354.5 63.2 359.3 64.9 360.5 64.8 361.3 63.7 362.1 59.4 362.9 56.9 364.1 55.1 365.5 54.4 367.0 54.8 368.2 56.1 369.2 58.9 370.1 64.4 370.6 65.1 371.5 65.5 375.8 64.7 378.8 63.4 379.3 62.1 379.0 59.1 379.4 58.4 380.0 58.0 381.6 58.4 383.3 59.9 384.1 61.4 384.6 64.1 385.0 65.0 386.5 65.3 392.3 65.3 395.8 64.9 399.8 63.5 409.2 57.6 416.5 54.6 423.5 53.2 425.8 53.7 427.5 55.1 428.2 56.6 428.4 58.4 427.7 60.9 426.8 62.1 422.5 64.3 415.8 70.1 410.3 73.5 405.0 75.8 401.3 76.7 398.3 77.1Z"/>
<path fill="#f19b7e" fill-rule="evenodd" d="M397.8 76.6 394.3 76.7 386.8 75.9 380.0 74.0 376.2 71.9 374.3 71.4 361.8 71.4 356.8 71.1 354.0 70.6 351.5 69.6 349.5 68.2 348.1 66.1 347.8 64.4 348.9 63.1 350.8 62.7 359.0 65.1 360.6 65.1 361.4 63.9 362.2 59.6 363.0 57.1 364.1 55.4 365.5 54.6 367.0 55.0 368.2 56.6 369.0 59.1 369.9 64.4 370.8 65.7 372.0 65.8 375.3 65.3 379.0 63.8 379.6 62.4 379.3 58.9 379.8 58.3 380.5 58.1 382.0 58.8 383.2 60.1 383.9 61.9 384.3 64.8 384.7 65.4 386.0 65.8 389.8 65.9 394.8 65.6 398.8 64.3 402.0 62.7 409.8 57.6 416.4 54.9 423.0 53.4 424.8 53.7 426.0 54.6 426.7 55.9 426.7 57.4 426.4 58.9 425.3 60.9 423.7 62.6 416.0 69.2 411.5 72.2 406.3 74.8 401.5 76.2 397.8 76.6Z"/>
<path fill="#de6852" fill-rule="evenodd" d="M398.3 76.1 394.3 76.3 386.8 75.5 380.0 73.6 376.3 71.5 374.3 71.0 362.5 71.1 354.5 70.3 352.0 69.5 350.0 68.1 348.6 66.1 348.2 64.4 349.0 63.4 350.5 63.0 359.0 65.4 360.8 65.4 361.6 64.1 362.4 59.6 363.2 57.1 364.3 55.5 365.5 54.8 367.0 55.3 368.1 56.9 368.9 59.6 369.7 64.6 370.5 66.0 371.8 66.1 375.3 65.7 379.3 64.1 379.9 62.6 379.6 59.1 379.8 58.6 380.5 58.4 381.8 58.9 383.0 60.4 383.6 62.1 383.9 64.9 384.3 65.6 385.8 66.2 389.5 66.3 394.8 66.0 398.8 64.7 402.0 63.1 410.4 57.6 416.4 55.1 422.8 53.7 424.5 54.0 425.6 54.9 426.1 56.1 426.1 57.4 424.7 60.6 422.9 62.6 415.8 68.8 411.0 72.0 406.3 74.3 401.8 75.6 398.3 76.1Z"/>
<path fill="#c73d3b" fill-rule="evenodd" d="M395.8 75.9 386.5 75.0 380.0 73.2 376.3 71.1 374.5 70.7 370.3 70.5 364.3 70.9 357.1 70.4 354.4 69.9 352.2 69.1 350.3 67.8 349.0 66.1 348.6 64.4 349.3 63.6 350.5 63.4 359.0 65.8 360.8 65.7 361.8 64.4 362.6 59.9 363.5 57.1 364.5 55.6 365.8 55.0 367.0 55.6 368.0 57.2 368.8 60.0 369.4 64.9 369.9 65.9 370.5 66.3 372.0 66.5 375.5 66.0 379.5 64.3 380.2 62.6 379.9 59.1 380.5 58.6 381.7 59.1 382.7 60.4 383.4 62.4 383.6 65.1 384.5 66.2 386.8 66.7 393.8 66.6 397.0 65.8 400.8 64.2 409.8 58.4 415.1 55.9 422.3 54.0 424.0 54.2 425.2 55.1 425.6 56.4 425.5 57.6 424.1 60.6 422.3 62.6 414.5 69.2 410.3 71.9 405.5 74.1 400.8 75.4 395.8 75.9Z"/>
<path fill="#b2182b" fill-rule="evenodd" d="M396.3 75.4 386.8 74.5 380.0 72.9 376.3 70.7 374.3 70.2 370.0 70.1 364.8 70.6 355.1 69.6 352.6 68.9 350.8 67.7 349.5 66.1 349.1 64.6 349.8 63.9 350.8 63.8 359.0 66.2 360.3 66.2 361.0 66.0 362.2 64.4 362.8 60.4 363.7 57.4 364.7 55.9 365.8 55.4 366.9 55.9 367.8 57.4 368.5 60.3 369.1 65.1 369.6 66.1 370.5 66.8 375.5 66.4 379.8 64.5 380.5 62.9 380.3 59.4 380.8 59.0 381.8 59.5 382.6 60.6 383.1 62.4 383.4 65.4 384.5 66.6 386.8 67.2 394.0 67.0 397.3 66.3 400.8 64.8 410.2 58.6 414.8 56.4 421.8 54.4 423.5 54.5 424.8 55.4 425.1 56.4 425.1 57.6 423.5 60.6 421.6 62.6 414.2 68.9 409.8 71.6 405.5 73.6 401.0 74.9 396.3 75.4Z"/>
<path fill="#e0edf7" fill-rule="evenodd" d="M371.8 64.7 371.0 64.5 370.4 63.6 369.5 58.6 368.5 56.1 367.5 54.7 366.3 54.1 364.5 54.4 363.1 55.9 361.9 58.6 360.8 63.4 360.0 64.2 359.3 64.1 358.3 63.4 356.5 60.4 354.5 59.6 352.3 60.0 348.8 62.3 346.8 62.8 346.0 61.6 346.1 59.1 346.8 57.1 348.1 55.4 349.5 54.1 351.8 52.7 365.3 48.3 370.8 47.3 377.3 46.8 388.5 46.8 392.5 47.2 400.3 48.6 403.9 47.4 418.8 40.9 425.0 39.8 431.5 39.2 436.5 39.4 440.3 40.3 443.8 42.1 447.3 44.8 447.3 57.1 445.3 56.8 441.4 54.4 438.0 53.4 432.3 52.7 423.5 52.7 416.5 54.2 411.5 56.0 407.6 57.9 401.0 62.1 396.5 63.6 393.8 63.5 390.3 62.7 384.8 60.0 381.5 57.9 379.8 57.7 377.5 59.5 375.0 60.6 373.4 63.6 372.6 64.4 371.8 64.7Z"/>
<path fill="#bad8eb" fill-rule="evenodd" d="M372.0 64.2 371.1 64.1 370.6 63.4 369.5 58.4 368.6 55.9 367.5 54.5 366.3 53.9 364.5 54.2 362.9 55.9 361.8 58.4 360.8 62.9 360.0 63.8 358.9 63.4 357.3 60.1 355.9 59.1 354.0 58.9 352.3 59.2 351.0 60.0 349.3 61.7 347.8 62.3 347.1 62.1 346.7 61.6 346.7 59.6 347.2 58.1 348.1 56.4 349.5 54.9 351.3 53.8 366.0 48.8 371.3 48.0 376.3 47.6 387.8 47.5 392.5 48.0 400.5 49.4 407.0 46.9 418.3 41.9 426.3 40.5 433.8 40.1 439.3 41.0 443.3 43.0 447.3 46.6 447.3 56.0 445.4 55.6 441.3 53.2 437.3 52.3 432.5 51.9 423.8 52.4 416.3 54.1 411.3 55.9 407.5 57.6 401.0 61.8 396.8 63.1 394.3 63.1 390.8 62.3 381.5 57.8 379.8 57.5 377.8 58.7 374.7 59.9 373.9 60.9 372.9 63.4 372.0 64.2Z"/>
<path fill="#8dbddd" fill-rule="evenodd" d="M371.8 63.7 371.3 63.7 370.8 63.1 369.7 58.1 368.8 55.9 367.6 54.4 366.3 53.8 364.5 54.0 362.9 55.6 361.7 58.1 360.5 62.6 360.0 63.2 359.2 62.9 357.5 59.6 355.9 58.6 354.0 58.4 352.0 58.8 350.7 59.6 349.0 61.4 348.0 61.8 347.3 61.3 347.2 59.6 347.8 57.9 348.7 56.4 351.5 54.2 366.3 49.3 371.5 48.4 376.5 48.0 387.8 48.0 392.0 48.4 400.5 49.9 413.6 44.6 418.5 42.3 427.0 41.0 434.3 40.8 439.5 41.9 443.3 44.1 446.3 47.9 447.3 48.5 447.3 54.7 445.8 54.4 441.5 52.4 436.8 51.5 432.3 51.3 423.8 52.1 416.0 54.0 411.0 55.7 407.4 57.4 400.8 61.6 398.3 62.5 396.3 62.8 394.0 62.6 390.8 61.8 386.2 59.4 381.3 57.5 380.0 57.3 374.5 59.4 373.5 60.5 372.5 63.1 371.8 63.7Z"/>
<path fill="#5c9ccc" fill-rule="evenodd" d="M371.8 63.0 371.3 63.0 370.9 62.4 369.9 58.1 368.8 55.6 367.8 54.3 366.3 53.5 364.5 53.8 363.0 55.1 361.9 57.1 360.0 62.4 359.4 62.1 357.7 59.1 355.7 58.1 353.8 58.0 351.8 58.5 350.5 59.2 348.3 61.2 347.8 60.7 347.7 59.6 348.2 58.1 349.0 56.7 351.8 54.5 366.0 49.7 371.5 48.8 376.3 48.4 387.8 48.4 392.0 48.8 400.5 50.3 413.5 45.1 418.3 42.7 420.3 42.2 429.5 41.4 433.0 41.4 436.3 41.8 438.9 42.6 440.6 43.6 442.0 45.1 442.7 46.9 442.8 49.6 442.0 50.7 433.0 50.6 427.5 51.2 423.5 51.9 419.5 53.2 416.0 53.7 408.0 56.7 401.5 60.9 398.0 62.2 395.3 62.4 391.8 61.7 389.8 61.0 386.3 59.0 380.0 57.1 374.3 59.0 373.2 60.1 371.8 63.0Z"/>
<path fill="#3c7eba" fill-rule="evenodd" d="M397.8 61.9 395.3 62.0 392.0 61.4 390.0 60.6 386.3 58.6 380.0 56.9 374.3 58.6 373.1 59.6 371.5 62.1 371.0 61.5 369.9 57.4 369.0 55.4 367.6 53.9 366.0 53.3 364.3 53.6 362.9 54.9 361.8 56.6 360.0 61.2 359.5 61.1 357.7 58.6 355.5 57.7 353.8 57.6 352.0 57.9 348.8 59.8 348.5 59.1 348.8 57.9 349.7 56.6 352.4 54.6 365.3 50.4 368.3 49.7 376.8 48.8 388.3 48.8 392.5 49.2 400.3 50.7 404.3 49.4 414.3 45.2 418.3 43.1 420.0 42.5 428.3 42.1 432.3 42.2 435.3 42.9 436.5 43.6 437.0 44.4 437.3 47.4 437.0 48.4 436.2 49.1 424.5 51.2 420.0 52.9 415.0 53.8 407.8 56.5 401.2 60.6 397.8 61.9Z"/>
<path fill="#2166ac" fill-rule="evenodd" d="M396.5 61.6 394.5 61.5 391.8 60.9 386.5 58.2 380.3 56.6 374.5 57.9 373.3 58.7 371.5 60.6 369.0 54.9 367.5 53.4 366.0 53.0 364.3 53.3 362.9 54.4 361.7 56.1 360.0 60.0 359.5 59.9 357.5 57.9 355.8 57.3 353.3 57.2 350.0 58.0 349.8 57.6 350.9 56.1 353.0 54.8 365.8 50.7 368.3 50.1 376.8 49.2 388.3 49.2 392.3 49.6 400.5 51.1 414.0 45.7 419.5 42.9 428.3 43.1 430.0 43.6 430.8 44.4 431.1 45.9 431.0 47.4 430.5 48.4 429.4 49.1 424.0 50.8 420.4 52.6 415.8 53.2 409.0 55.5 406.8 56.5 400.3 60.6 396.5 61.6Z"/>
<circle cx="353.8" cy="62.0" r="4.4" fill="#fff"/>
<circle cx="376.2" cy="61.8" r="4.4" fill="#fff"/>
</g>
<g clip-path="url(#cpCR)">
<path fill="#fde2d4" fill-rule="evenodd" d="M293.9 130.0 290.4 129.9 272.4 127.9 258.9 128.0 252.4 127.7 247.6 127.1 244.1 125.8 241.4 123.9 239.5 121.2 239.0 119.7 239.0 118.2 239.8 117.2 242.1 117.1 243.9 117.6 249.4 120.1 251.1 120.2 252.5 119.0 255.1 113.2 256.4 112.1 257.9 111.9 259.9 112.8 262.9 116.1 266.1 117.7 267.6 118.0 268.9 117.7 269.8 114.7 270.6 114.0 271.4 113.9 273.3 115.2 274.9 117.7 275.4 118.1 279.4 119.1 286.4 121.5 288.4 121.9 290.4 121.7 292.1 121.1 293.8 120.0 299.8 111.7 304.0 108.7 308.3 104.5 311.1 102.7 313.6 101.7 315.4 101.7 316.9 102.5 317.7 103.5 317.6 104.7 313.4 110.2 309.6 116.5 308.2 122.0 306.6 125.0 304.1 127.1 300.6 128.8 297.9 129.6 293.9 130.0Z"/>
<path fill="#f9c3a9" fill-rule="evenodd" d="M294.4 129.2 290.4 129.2 272.1 127.2 259.1 127.3 252.9 127.0 247.9 126.4 244.6 125.3 241.9 123.5 240.2 121.0 239.7 118.5 240.4 117.5 241.9 117.4 249.1 120.3 251.1 120.4 252.6 119.2 254.3 115.0 255.3 113.2 256.6 112.2 257.9 112.0 259.6 112.8 262.6 116.2 266.1 118.5 268.1 118.7 269.4 118.3 270.1 114.7 270.6 114.2 271.4 114.1 273.3 115.5 274.4 118.1 275.1 118.7 279.6 119.6 286.9 121.8 290.6 121.9 292.5 121.2 294.4 120.0 300.6 112.0 302.4 110.5 305.3 109.0 309.6 104.5 311.7 103.2 313.6 102.5 314.9 102.5 316.0 103.0 316.4 103.7 316.1 104.7 312.2 109.7 308.9 115.8 307.7 121.2 306.0 124.5 303.9 126.4 300.6 128.1 297.9 128.8 294.4 129.2Z"/>
<path fill="#f19b7e" fill-rule="evenodd" d="M294.6 128.7 290.9 128.8 272.1 126.7 259.1 126.8 252.9 126.5 248.1 125.9 244.9 124.9 242.4 123.2 240.7 121.0 240.2 118.7 240.6 118.0 241.6 117.8 249.1 120.5 251.4 120.5 252.8 119.2 255.4 113.5 256.5 112.5 257.9 112.2 259.6 113.0 263.6 117.5 266.1 119.0 268.1 119.1 269.7 118.7 270.1 117.7 270.3 115.0 270.7 114.5 271.4 114.3 272.4 114.8 273.2 115.7 273.9 118.2 274.6 119.0 280.1 120.1 286.9 122.1 290.4 122.2 292.9 121.4 294.9 120.1 299.8 113.5 302.1 111.3 304.4 110.2 307.5 109.5 308.9 108.9 309.4 109.0 309.0 113.0 307.5 120.2 306.7 122.5 305.8 124.0 303.9 125.9 300.6 127.6 298.1 128.3 294.6 128.7Z"/>
<path fill="#de6852" fill-rule="evenodd" d="M295.6 128.2 290.9 128.4 271.9 126.3 259.1 126.4 248.4 125.6 245.1 124.6 242.9 123.1 241.2 121.0 240.7 119.0 241.1 118.4 241.9 118.3 245.4 119.7 248.9 120.7 251.4 120.8 252.9 119.5 254.6 115.2 255.6 113.5 256.6 112.7 257.9 112.5 259.5 113.2 263.4 117.8 265.9 119.3 267.9 119.6 269.9 119.1 270.4 118.2 270.6 115.2 270.9 114.7 271.4 114.6 272.9 115.7 273.6 118.5 274.4 119.3 287.1 122.4 290.4 122.4 293.1 121.6 295.1 120.3 300.2 113.7 302.4 111.6 304.6 110.6 306.6 110.9 307.7 112.2 308.0 114.0 307.2 120.0 305.9 123.2 304.1 125.2 301.9 126.5 298.9 127.7 295.6 128.2Z"/>
<path fill="#c73d3b" fill-rule="evenodd" d="M294.1 128.0 290.9 128.0 272.1 125.9 259.1 126.0 248.6 125.2 245.9 124.5 243.6 123.2 241.9 121.4 241.2 119.5 241.5 119.0 242.1 118.9 245.4 120.1 248.9 121.1 250.4 121.2 251.6 121.0 253.2 119.5 255.6 113.9 256.6 113.0 257.9 112.7 259.7 113.7 263.4 118.3 265.9 119.7 268.4 119.9 270.2 119.5 270.7 118.5 270.9 115.5 271.1 115.0 271.6 114.9 272.8 116.0 273.4 119.0 274.1 119.7 287.1 122.6 290.6 122.7 293.4 121.9 295.4 120.6 300.5 114.0 302.6 111.8 304.6 111.0 306.4 111.5 307.3 112.7 307.4 114.7 306.7 120.2 305.2 123.5 303.4 125.2 300.4 126.8 297.9 127.6 294.1 128.0Z"/>
<path fill="#b2182b" fill-rule="evenodd" d="M294.9 127.5 290.9 127.5 271.9 125.4 259.1 125.6 248.9 124.8 246.1 124.1 244.0 123.0 242.5 121.5 242.0 120.0 242.1 119.7 242.9 119.7 249.4 121.5 251.9 121.3 253.5 119.7 255.9 114.2 256.9 113.2 257.9 113.1 259.6 114.1 263.1 118.7 265.9 120.2 268.6 120.3 270.6 119.8 271.1 119.0 271.2 116.0 271.6 115.4 272.2 115.7 272.6 116.5 273.0 119.5 273.9 120.1 287.4 123.0 290.9 123.1 293.6 122.3 295.6 121.0 300.6 114.4 302.8 112.2 304.4 111.5 305.9 111.8 306.8 113.0 307.0 114.7 306.4 119.7 305.1 123.0 303.4 124.7 300.6 126.2 298.1 127.1 294.9 127.5Z"/>
<path fill="#e0edf7" fill-rule="evenodd" d="M333.1 121.7 330.6 121.1 328.1 118.7 323.0 110.2 319.4 102.9 317.8 101.7 314.9 100.7 313.1 100.9 310.1 102.3 299.2 109.0 295.4 113.2 294.5 117.5 293.5 119.5 291.9 120.8 289.9 121.5 287.1 121.5 283.2 120.2 275.4 116.7 272.8 114.5 271.4 113.7 270.4 113.8 268.4 115.4 264.6 116.1 263.4 115.9 262.1 115.1 259.8 112.5 257.9 111.7 256.4 111.9 255.1 112.9 254.0 114.7 252.2 119.0 251.5 119.7 250.6 120.0 248.9 119.6 246.4 117.6 244.6 116.7 239.4 116.3 238.7 115.5 238.6 114.2 239.3 111.7 241.1 109.2 243.4 107.6 246.6 106.4 250.9 105.7 278.4 103.6 283.6 104.1 290.9 106.6 291.9 106.1 297.6 101.4 303.6 98.1 310.4 95.9 314.4 95.2 317.9 95.2 322.1 95.9 325.6 97.6 330.6 99.1 333.9 101.6 336.1 104.5 338.4 110.7 338.4 114.2 337.0 118.5 336.2 120.0 334.9 121.2 333.1 121.7Z"/>
<path fill="#bad8eb" fill-rule="evenodd" d="M290.1 121.3 287.4 121.3 283.9 120.3 275.1 116.0 271.4 113.5 270.4 113.6 268.6 114.7 266.4 114.9 264.1 115.7 263.1 115.6 262.1 114.9 259.9 112.3 258.1 111.5 256.6 111.6 255.1 112.7 254.0 114.5 252.1 118.8 251.4 119.6 250.6 119.8 249.1 119.5 246.8 117.2 245.0 116.2 243.9 116.1 241.4 116.3 240.1 116.1 239.4 115.2 239.3 114.0 240.3 111.2 242.6 108.9 245.9 107.3 249.6 106.6 279.1 104.4 283.9 104.9 290.4 107.4 291.9 107.6 298.1 102.7 302.8 100.0 308.9 97.6 314.9 96.5 317.9 96.6 322.1 97.2 325.4 98.6 330.1 100.1 332.1 101.5 334.1 103.5 335.4 105.5 336.3 107.7 336.9 112.7 336.0 118.0 335.4 119.2 334.3 120.2 332.9 120.6 331.6 120.4 329.9 119.2 328.4 117.2 324.4 110.5 319.9 102.0 318.6 101.0 315.9 99.9 314.6 99.6 313.4 99.8 303.6 104.6 297.9 108.4 294.7 112.2 294.1 117.0 293.3 119.0 292.0 120.5 290.1 121.3Z"/>
<path fill="#8dbddd" fill-rule="evenodd" d="M333.1 119.2 331.7 119.0 330.5 118.0 326.4 111.6 322.5 104.2 320.3 101.0 320.2 99.7 321.1 98.7 322.1 98.4 323.1 98.6 325.6 99.9 329.5 101.2 331.9 103.0 333.9 105.4 335.3 109.0 335.6 113.2 334.9 117.5 334.1 118.7 333.1 119.2ZM290.1 121.0 287.6 121.2 284.4 120.2 278.9 117.2 274.6 115.3 271.4 113.3 270.4 113.3 268.6 114.3 266.4 114.4 264.1 115.2 263.1 115.3 262.1 114.6 260.0 112.2 258.1 111.3 256.6 111.4 255.1 112.5 253.7 114.5 251.9 118.7 250.6 119.6 249.2 119.2 247.1 116.9 245.1 115.8 243.9 115.6 241.4 116.0 240.4 115.7 239.8 115.0 239.8 114.0 240.6 111.7 242.1 109.9 244.4 108.4 247.4 107.4 250.6 106.9 275.6 104.9 282.4 105.1 287.4 106.6 292.6 108.9 293.6 110.0 293.8 111.2 293.8 115.2 293.5 117.7 292.1 120.0 290.1 121.0Z"/>
<path fill="#5c9ccc" fill-rule="evenodd" d="M323.1 102.0 322.4 101.9 321.8 101.2 321.7 100.5 322.1 100.0 322.9 99.9 323.6 100.5 323.7 101.5 323.1 102.0ZM332.6 114.3 331.6 114.4 330.4 114.0 327.5 110.7 326.3 108.5 325.9 106.7 325.9 105.5 326.6 104.5 327.9 104.2 329.6 104.6 331.4 105.9 332.6 107.5 333.5 109.5 333.9 111.5 333.5 113.2 332.6 114.3ZM290.1 120.7 287.9 120.9 284.9 120.1 279.1 116.9 274.6 114.9 271.4 113.1 263.1 114.9 262.3 114.5 260.1 112.0 258.1 111.1 256.4 111.3 254.9 112.4 253.5 114.5 251.9 118.4 250.6 119.3 249.4 118.9 247.4 116.6 245.4 115.4 244.1 115.2 241.9 115.6 240.8 115.5 240.3 114.7 240.3 113.7 241.1 111.7 242.6 110.0 244.9 108.6 247.6 107.8 275.6 105.3 282.4 105.5 285.4 106.3 288.1 107.4 291.4 109.1 292.7 110.5 293.4 113.5 293.2 117.2 292.1 119.5 290.1 120.7Z"/>
<path fill="#3c7eba" fill-rule="evenodd" d="M289.9 120.5 287.6 120.6 285.1 119.9 279.1 116.4 271.4 112.8 270.4 112.8 268.6 113.5 266.1 113.7 263.1 114.5 262.4 114.1 260.1 111.7 258.1 110.9 256.4 111.0 254.7 112.2 253.5 114.0 251.6 118.2 250.6 119.0 249.6 118.7 247.9 116.5 246.4 115.5 244.4 114.8 241.4 115.1 240.8 114.7 240.7 113.7 241.5 111.7 243.1 110.1 245.4 108.8 248.1 108.1 275.6 105.7 282.1 105.9 285.1 106.6 288.1 107.8 290.9 109.3 292.1 110.7 292.9 113.5 292.9 117.0 291.8 119.2 289.9 120.5Z"/>
<path fill="#2166ac" fill-rule="evenodd" d="M289.1 120.3 287.4 120.2 285.0 119.5 279.4 116.1 271.6 112.6 270.6 112.5 268.6 113.1 266.1 113.2 263.1 114.1 260.1 111.4 258.1 110.5 256.1 110.8 254.5 112.0 253.3 113.7 251.4 117.9 250.6 118.5 249.8 118.2 248.1 116.2 246.6 115.1 244.4 114.3 241.6 114.5 241.2 113.5 242.1 111.7 243.6 110.3 245.9 109.1 248.4 108.5 275.6 106.1 282.1 106.3 285.4 107.1 288.5 108.5 290.6 109.7 291.8 111.2 292.6 114.2 292.4 117.2 291.1 119.3 289.1 120.3Z"/>
<circle cx="245.2" cy="115.8" r="4.4" fill="#fff"/>
<circle cx="266.0" cy="115.8" r="4.4" fill="#fff"/>
</g>
<g clip-path="url(#cpII)">
<path fill="#fde2d4" fill-rule="evenodd" d="M398.8 135.0 394.3 134.9 388.8 133.6 381.3 130.7 376.8 128.2 369.5 128.9 364.0 129.0 358.0 128.4 354.8 127.7 350.5 125.6 348.3 123.8 346.5 120.8 346.1 119.3 346.1 118.0 346.6 117.3 347.5 116.8 351.0 116.4 356.0 117.7 359.3 119.4 360.5 119.3 361.8 118.0 366.4 110.5 367.5 106.8 368.2 105.5 369.8 103.6 371.5 103.0 373.5 103.8 374.0 104.5 374.0 105.5 369.5 112.9 367.5 118.8 367.5 119.3 367.9 119.5 371.0 119.3 375.8 117.1 377.8 110.5 378.5 109.6 379.8 109.3 381.4 110.0 382.9 112.0 383.7 114.0 384.3 117.2 387.0 118.7 388.7 121.3 390.8 122.0 394.5 122.7 397.3 122.8 399.5 122.5 403.3 121.4 406.5 119.7 415.0 111.5 420.5 107.0 421.8 106.6 429.0 106.1 432.0 106.4 435.5 107.3 438.3 108.4 440.8 109.8 443.8 112.8 446.5 118.0 447.3 118.9 447.3 125.8 444.3 126.7 438.8 127.2 437.5 126.9 436.8 126.3 434.8 122.2 432.5 119.5 430.0 117.8 428.0 117.4 427.0 118.0 421.0 124.9 414.8 129.9 410.8 132.1 406.8 133.7 402.5 134.7 398.8 135.0Z"/>
<path fill="#f9c3a9" fill-rule="evenodd" d="M399.3 134.3 394.5 134.2 389.0 132.9 380.8 129.7 377.3 127.5 369.8 128.2 364.5 128.3 358.5 127.9 355.3 127.1 351.3 125.3 349.0 123.5 347.2 120.8 346.7 119.3 346.8 118.0 347.9 117.0 350.3 116.7 355.8 118.2 359.0 119.6 360.8 119.3 361.9 118.0 366.6 110.5 368.3 106.0 369.9 104.0 371.3 103.4 373.3 104.1 373.8 104.8 373.8 105.8 369.6 112.5 366.9 119.3 367.0 120.2 370.8 119.6 376.3 117.6 377.8 110.9 378.3 110.0 379.3 109.6 380.5 109.9 381.9 111.3 383.1 113.8 383.6 117.5 386.5 119.1 388.0 121.8 389.8 122.5 394.5 123.4 397.3 123.5 400.0 123.0 403.0 122.0 405.5 120.7 408.3 118.6 415.5 111.5 419.8 108.2 421.5 107.4 425.8 107.5 429.2 108.8 433.8 111.5 437.1 115.0 437.3 115.3 436.8 115.5 431.5 114.9 429.0 115.2 427.0 116.8 420.9 124.0 415.0 128.9 410.5 131.4 406.8 132.9 402.8 133.9 399.3 134.3Z"/>
<path fill="#f19b7e" fill-rule="evenodd" d="M399.5 133.8 394.5 133.7 389.0 132.4 380.8 129.2 377.5 127.0 368.0 127.9 361.0 127.8 356.8 127.2 352.8 125.6 349.8 123.7 347.8 121.0 347.2 119.5 347.2 118.3 348.0 117.3 349.8 117.1 355.3 118.4 359.0 119.8 360.8 119.4 361.9 118.3 366.6 110.8 368.7 106.0 370.0 104.4 371.3 103.8 372.3 103.9 373.3 104.4 373.7 105.3 373.6 106.0 369.6 112.3 366.5 119.3 366.3 120.3 366.5 120.6 367.3 120.7 370.8 119.9 376.4 118.0 377.0 117.0 377.9 111.0 378.5 110.1 379.5 109.8 381.0 110.6 382.4 112.8 382.9 114.5 383.3 117.9 386.3 119.5 387.5 122.1 389.9 123.0 394.3 123.8 398.8 123.8 402.2 122.8 404.3 121.8 407.8 119.4 415.5 111.9 420.8 108.3 422.5 107.9 424.5 108.0 426.0 108.6 427.3 109.6 427.9 110.5 428.3 112.0 428.3 113.5 427.8 114.8 423.9 120.0 419.0 125.1 415.0 128.3 410.0 131.1 405.3 132.9 399.5 133.8Z"/>
<path fill="#de6852" fill-rule="evenodd" d="M400.5 133.3 395.3 133.4 389.5 132.1 381.0 128.8 378.3 126.7 377.5 126.5 368.8 127.5 361.3 127.5 357.5 127.1 353.0 125.3 350.1 123.5 348.1 120.8 347.6 119.3 347.6 118.3 348.4 117.5 349.8 117.4 358.8 119.9 359.8 120.0 360.9 119.5 362.1 118.3 366.8 110.8 368.6 106.5 370.0 104.7 371.3 104.0 373.0 104.6 373.5 105.3 373.4 106.0 369.8 111.5 366.3 119.1 365.9 120.5 366.5 121.2 370.8 120.2 376.7 118.3 377.3 117.1 378.0 111.3 378.6 110.3 379.5 110.0 381.0 111.0 382.2 113.0 383.0 118.2 385.9 119.8 387.4 122.5 389.3 123.3 393.3 124.1 396.5 124.4 398.8 124.2 403.0 122.9 406.3 120.9 415.0 112.8 420.5 108.9 422.3 108.4 424.0 108.5 425.5 109.0 426.8 109.9 427.7 112.0 427.6 113.5 427.2 114.8 423.6 119.8 419.0 124.6 414.8 128.0 410.0 130.7 405.8 132.3 400.5 133.3Z"/>
<path fill="#c73d3b" fill-rule="evenodd" d="M399.0 133.0 394.3 132.9 388.8 131.5 381.0 128.4 378.5 126.4 377.8 126.1 369.0 127.1 361.3 127.3 357.8 126.9 353.2 125.0 350.5 123.4 348.5 120.9 348.0 119.5 348.0 118.5 348.5 117.9 349.8 117.8 358.5 120.2 359.8 120.1 361.0 119.6 362.2 118.5 367.0 110.8 368.9 106.5 370.3 104.8 371.3 104.3 372.9 104.8 373.2 105.3 373.2 106.0 369.6 111.5 365.9 119.3 365.6 120.8 366.3 121.6 368.0 121.3 376.8 118.7 377.5 117.3 378.3 111.3 378.8 110.5 379.5 110.3 380.9 111.3 382.0 113.3 382.8 118.5 385.6 120.0 387.0 122.8 389.3 123.7 393.3 124.5 396.5 124.8 398.8 124.6 403.3 123.2 406.5 121.2 415.0 113.2 420.3 109.5 422.0 108.9 423.8 108.9 425.3 109.3 426.5 110.3 427.1 111.3 427.3 112.5 427.1 113.8 426.4 115.3 421.5 121.6 417.1 125.8 413.8 128.2 408.8 130.8 404.8 132.2 399.0 133.0Z"/>
<path fill="#b2182b" fill-rule="evenodd" d="M399.8 132.5 394.8 132.5 389.5 131.3 381.3 128.1 378.9 126.0 378.0 125.7 372.5 126.4 364.0 126.7 361.5 127.1 358.0 126.8 352.8 124.3 350.8 123.1 349.0 120.9 348.5 118.8 349.0 118.3 350.3 118.3 358.5 120.5 361.3 119.7 362.4 118.5 367.2 110.8 369.2 106.5 370.5 104.9 371.5 104.5 372.8 105.0 373.0 106.0 369.7 111.0 365.7 119.3 365.3 121.0 366.0 121.9 367.8 121.8 377.0 119.0 377.8 117.3 378.4 111.5 378.9 110.8 379.5 110.7 380.8 111.6 381.8 113.5 382.5 118.8 385.3 120.3 386.2 122.5 386.8 123.2 389.3 124.1 393.3 124.9 396.8 125.2 399.0 125.0 403.3 123.6 406.5 121.7 415.0 113.8 420.3 109.9 421.8 109.3 423.5 109.2 425.0 109.7 426.1 110.5 426.7 111.5 426.8 112.8 426.0 115.2 421.3 121.2 417.3 125.0 414.0 127.5 409.5 130.0 405.3 131.6 399.8 132.5Z"/>
<path fill="#e0edf7" fill-rule="evenodd" d="M402.0 121.1 396.8 120.9 394.3 120.2 391.5 118.9 388.8 116.8 383.3 110.0 382.3 109.3 380.8 109.0 379.0 109.1 378.0 109.8 376.3 113.6 373.8 115.5 372.7 117.5 371.7 118.5 370.5 119.0 369.3 119.0 368.5 118.4 368.4 117.3 369.8 112.7 373.9 106.3 374.7 103.3 377.5 101.4 382.0 99.6 387.5 98.7 393.5 98.6 399.3 99.8 406.0 102.6 407.3 102.0 416.3 95.9 420.3 94.1 424.3 92.9 426.8 92.6 433.5 92.6 447.3 93.6 447.3 103.7 440.0 103.6 429.8 104.8 424.5 105.9 421.0 106.0 418.7 107.5 407.0 118.9 404.8 120.3 402.0 121.1ZM360.5 119.1 359.8 119.2 359.0 119.0 356.0 116.0 354.5 115.3 352.5 115.2 348.3 116.2 346.5 116.2 346.0 115.5 345.8 114.3 346.8 111.0 348.0 109.5 349.8 108.1 351.8 107.1 354.0 106.4 360.3 106.2 366.3 106.9 366.9 108.3 366.5 110.0 361.8 117.7 360.5 119.1Z"/>
<path fill="#bad8eb" fill-rule="evenodd" d="M402.3 120.6 399.8 120.6 396.5 120.2 391.5 118.1 389.2 116.3 384.0 109.6 383.0 108.8 382.0 108.5 379.5 108.7 378.0 109.5 376.3 112.9 373.2 115.0 372.1 117.5 371.3 118.4 370.3 118.7 369.3 118.4 368.8 117.5 368.8 116.5 370.2 112.0 374.0 106.5 375.0 104.0 377.5 102.2 382.5 100.2 389.5 99.2 393.8 99.4 399.3 100.6 406.0 103.5 407.2 103.0 416.8 96.4 419.8 95.1 424.5 93.6 427.0 93.3 433.8 93.6 447.3 94.8 447.3 102.5 439.8 102.4 430.5 104.0 424.8 105.4 421.0 105.6 418.2 107.5 407.0 118.6 404.8 120.0 402.3 120.6ZM360.0 119.0 358.8 118.5 356.5 115.5 354.8 114.6 352.5 114.5 348.5 115.9 347.1 115.8 346.6 115.0 346.6 113.8 347.6 111.0 348.8 109.7 350.3 108.6 352.3 107.7 354.3 107.1 360.5 106.9 365.0 107.4 366.3 107.8 366.6 109.0 366.1 110.5 361.5 117.9 360.0 119.0Z"/>
<path fill="#8dbddd" fill-rule="evenodd" d="M403.0 120.1 400.5 120.2 397.0 119.8 394.8 119.2 392.0 117.9 389.6 116.0 384.3 109.2 383.3 108.4 382.0 108.0 379.8 108.4 378.0 109.3 376.0 112.7 372.8 114.8 371.7 117.3 371.0 118.1 370.3 118.3 369.5 117.9 369.1 116.0 370.5 111.8 374.1 106.5 375.3 104.3 378.0 102.5 382.8 100.6 389.5 99.7 393.8 99.8 399.3 101.1 406.0 104.1 407.3 103.6 417.0 96.8 420.3 95.4 425.0 94.0 427.3 93.8 430.0 94.3 434.5 94.5 441.0 95.9 447.3 96.6 447.3 100.6 441.0 100.6 425.3 104.9 421.8 105.0 420.3 105.6 416.0 109.0 407.5 117.9 405.3 119.4 403.0 120.1ZM360.0 118.8 359.0 118.3 356.8 115.0 355.0 114.2 352.5 114.1 348.8 115.5 347.5 115.4 347.1 114.8 347.1 113.8 347.9 111.5 348.9 110.3 350.3 109.2 352.3 108.2 354.3 107.6 360.5 107.4 366.0 108.2 366.4 109.3 365.8 110.8 361.5 117.6 360.8 118.5 360.0 118.8Z"/>
<path fill="#5c9ccc" fill-rule="evenodd" d="M402.0 119.8 396.8 119.4 392.0 117.4 390.0 115.8 384.5 108.9 383.5 108.0 382.3 107.6 380.3 107.8 378.0 108.9 376.0 112.3 372.4 114.5 370.8 117.6 370.3 117.7 369.7 117.3 369.5 115.3 370.8 111.6 375.5 104.6 378.0 102.9 382.5 101.1 389.0 100.2 393.5 100.2 399.0 101.5 405.0 104.3 406.0 104.5 407.4 104.0 416.8 97.4 424.5 94.4 427.8 94.2 433.8 95.6 435.5 96.8 435.7 99.3 434.8 100.8 426.5 104.1 424.5 104.6 421.8 104.6 419.8 105.5 415.8 108.8 409.5 115.6 407.0 117.9 404.8 119.3 402.0 119.8ZM360.0 118.5 359.2 118.0 357.3 114.9 355.3 113.8 352.3 113.7 348.8 115.0 348.0 115.0 347.6 113.8 348.2 111.8 349.2 110.5 350.5 109.5 354.3 108.0 360.3 107.8 365.8 108.5 366.1 109.5 365.5 110.9 361.5 117.3 360.8 118.2 360.0 118.5Z"/>
<path fill="#3c7eba" fill-rule="evenodd" d="M403.3 119.3 400.8 119.4 397.3 119.1 392.5 117.3 390.2 115.5 384.7 108.5 383.8 107.7 382.5 107.3 380.3 107.4 378.0 108.6 375.8 111.9 372.3 114.0 370.5 116.7 370.0 116.3 370.0 114.5 371.3 111.2 375.5 105.2 378.0 103.4 382.5 101.5 389.0 100.5 393.5 100.6 398.8 101.8 405.0 104.8 406.3 104.9 407.5 104.4 416.8 97.9 423.8 95.0 425.8 94.5 427.5 94.5 428.9 95.0 430.5 96.3 431.1 97.5 431.2 99.5 430.9 100.8 429.8 102.0 428.5 102.9 426.5 103.7 424.5 104.2 421.5 104.3 419.0 105.5 415.0 109.0 407.8 116.8 405.3 118.7 403.3 119.3ZM360.5 118.0 360.0 118.1 359.5 117.8 357.8 114.9 356.3 113.7 354.8 113.3 353.0 113.2 348.5 114.4 348.1 113.8 348.4 112.3 349.3 111.0 350.4 110.0 354.0 108.5 359.8 108.2 365.3 108.8 365.8 109.3 365.5 110.5 361.8 116.6 360.5 118.0Z"/>
<path fill="#2166ac" fill-rule="evenodd" d="M403.5 118.8 400.8 119.0 397.5 118.7 395.2 118.0 392.5 116.8 390.5 115.2 385.0 108.2 383.8 107.2 382.5 106.8 380.5 106.9 378.8 107.6 377.3 108.9 375.3 111.8 370.8 114.6 370.5 113.8 371.8 110.8 375.8 105.5 378.2 103.8 382.4 102.0 387.3 101.1 393.4 101.0 398.5 102.1 404.8 105.1 406.3 105.4 407.8 104.8 415.7 99.0 419.0 97.2 425.5 94.8 427.5 94.8 429.1 95.8 429.6 97.0 429.7 99.8 429.4 101.3 428.6 102.3 425.0 103.7 421.3 104.0 418.8 105.2 414.8 108.6 407.8 116.3 405.5 118.1 403.5 118.8ZM360.5 117.5 359.8 117.3 358.0 114.5 356.5 113.4 353.5 112.7 349.3 113.6 348.8 113.3 349.0 112.3 349.8 111.2 351.0 110.2 354.5 108.8 360.0 108.6 365.0 109.2 365.4 109.8 365.0 110.9 361.5 116.5 360.5 117.5Z"/>
<circle cx="353.9" cy="115.7" r="4.4" fill="#fff"/>
<circle cx="375.3" cy="115.7" r="4.4" fill="#fff"/>
</g>
<g clip-path="url(#cpARS)">
<path fill="#fde2d4" fill-rule="evenodd" d="M334.6 192.8 332.6 192.1 330.4 190.4 327.6 183.3 325.9 181.1 323.9 179.6 322.9 179.7 320.1 181.5 317.4 182.7 311.6 183.9 297.1 184.1 278.9 186.0 269.6 186.1 267.6 185.5 265.6 183.4 260.6 183.5 254.1 182.7 249.4 181.4 244.4 179.5 241.6 177.7 238.9 174.8 237.5 171.8 237.4 169.6 238.1 168.6 239.6 168.4 243.9 169.8 246.6 170.2 247.0 169.8 247.6 167.1 248.1 166.5 248.6 166.4 249.4 167.0 250.1 168.1 250.5 169.6 250.3 171.1 251.0 171.8 256.1 174.3 260.6 175.9 264.6 176.6 267.4 176.3 268.4 175.6 268.9 174.6 269.9 167.1 272.0 160.8 274.0 157.1 277.4 153.0 281.6 150.0 288.1 147.4 292.9 146.7 299.4 146.9 300.6 147.5 301.4 148.6 301.3 149.8 300.6 150.6 299.1 151.0 293.1 151.3 289.6 152.1 285.4 154.1 282.1 156.8 280.6 159.1 279.4 163.0 277.4 166.4 274.6 175.1 282.1 173.9 290.9 173.4 295.1 172.7 299.6 171.4 307.1 168.2 310.9 167.2 316.6 166.9 320.1 167.4 323.6 169.2 330.1 174.4 333.3 177.8 335.8 181.6 337.2 185.1 337.5 188.6 336.4 191.8 335.6 192.6 334.6 192.8Z"/>
<path fill="#f9c3a9" fill-rule="evenodd" d="M275.9 185.3 269.1 185.3 267.7 184.6 266.6 182.8 266.1 182.5 261.6 182.8 257.1 182.5 251.9 181.5 246.1 179.5 242.6 177.6 239.8 174.8 238.2 171.8 238.2 169.6 238.9 169.0 239.9 169.0 244.1 170.6 247.9 171.0 248.1 170.8 247.6 169.6 247.6 168.1 248.0 167.1 248.6 166.7 249.6 167.6 250.2 168.8 250.1 170.2 249.0 171.3 249.7 171.8 255.2 174.3 260.6 176.1 264.9 176.8 267.9 176.4 268.6 175.9 269.1 175.1 270.5 167.6 272.8 160.8 274.7 157.1 277.6 153.8 281.6 150.7 287.9 148.2 292.1 147.4 298.4 147.4 299.6 147.7 300.6 148.6 300.8 149.6 300.3 150.3 299.1 150.8 292.6 151.2 289.4 152.0 285.1 154.0 282.1 156.6 280.4 159.1 279.1 162.8 276.9 165.9 274.2 173.3 271.8 177.1 272.6 177.1 280.1 174.9 291.9 173.6 296.4 172.7 309.6 168.1 312.9 167.7 317.1 167.7 320.6 168.4 323.6 170.3 328.0 176.3 329.4 179.1 328.9 179.2 325.6 177.8 324.4 177.7 318.6 181.4 315.6 182.4 311.6 183.1 296.4 183.3 275.9 185.3Z"/>
<path fill="#f19b7e" fill-rule="evenodd" d="M275.9 184.8 271.1 185.0 268.9 184.7 267.9 184.0 267.1 182.2 266.6 181.8 261.9 182.4 257.4 182.0 252.1 181.0 246.6 179.2 243.1 177.3 240.4 174.8 238.9 172.3 238.7 170.1 239.1 169.6 239.9 169.5 243.6 170.9 248.1 171.8 255.5 174.8 261.1 176.5 265.4 177.0 268.6 176.7 269.4 175.8 270.8 168.3 273.0 161.6 275.0 157.6 277.6 154.4 281.6 151.3 287.6 148.8 291.9 147.9 297.4 147.8 298.9 148.0 299.9 148.5 300.3 149.3 300.1 150.1 298.9 150.6 293.1 150.9 289.4 151.7 285.1 153.7 281.9 156.5 280.3 158.8 279.0 162.3 276.4 165.8 274.8 170.8 273.5 173.6 271.9 175.7 270.0 177.1 269.8 178.1 270.0 178.6 270.9 178.6 275.1 176.7 279.6 175.5 292.1 173.9 296.6 172.9 308.1 169.0 312.1 168.2 317.4 168.2 320.1 168.7 322.9 170.4 323.9 171.6 324.4 172.8 324.3 175.3 323.2 177.3 319.9 180.2 315.6 181.9 310.4 182.7 302.1 182.6 293.1 183.1 275.9 184.8ZM249.4 170.3 248.4 170.1 248.0 169.3 248.1 167.8 248.6 167.1 249.4 167.6 250.0 168.8 249.9 169.8 249.4 170.3Z"/>
<path fill="#de6852" fill-rule="evenodd" d="M270.9 175.6 270.1 175.3 270.1 173.6 271.0 169.1 272.5 164.1 275.0 158.3 278.4 154.2 282.6 151.2 289.1 148.8 294.6 148.2 298.1 148.3 299.5 148.8 299.8 149.6 298.9 150.3 292.6 150.7 288.1 151.9 285.1 153.4 282.6 155.3 280.2 158.3 278.8 162.1 276.2 165.3 273.3 173.1 272.1 174.7 270.9 175.6ZM249.4 169.8 248.9 169.9 248.4 169.3 248.6 167.7 249.1 167.8 249.6 168.5 249.7 169.3 249.4 169.8ZM277.1 184.3 272.1 184.5 269.1 184.3 268.1 183.3 267.7 181.3 267.4 181.1 262.6 181.9 258.6 181.8 252.6 180.8 247.9 179.2 244.1 177.5 241.4 175.3 239.6 172.8 239.2 171.6 239.2 170.6 240.1 170.1 243.6 171.4 247.9 172.2 255.1 175.1 259.9 176.5 263.6 177.1 268.4 177.4 268.8 177.8 269.0 179.3 269.4 179.6 275.1 177.2 278.6 176.2 295.9 173.4 308.1 169.5 311.6 168.7 316.9 168.6 319.6 169.0 322.4 170.5 323.7 172.6 323.6 175.3 322.2 177.6 319.4 180.0 315.6 181.4 310.4 182.3 302.1 182.1 293.4 182.6 277.1 184.3Z"/>
<path fill="#c73d3b" fill-rule="evenodd" d="M271.4 174.6 270.9 174.6 270.6 174.1 270.8 172.1 273.1 163.4 275.6 158.1 278.9 154.3 282.9 151.5 289.1 149.2 293.6 148.7 297.9 148.8 298.9 149.2 299.0 149.6 298.4 149.9 292.4 150.4 288.6 151.4 285.4 152.9 282.4 155.1 280.0 158.1 278.6 161.8 276.0 164.8 273.4 172.0 272.4 173.7 271.4 174.6ZM249.1 169.2 248.9 169.1 248.9 168.5 249.2 168.6 249.1 169.2ZM274.6 184.1 269.3 183.8 268.4 182.8 268.5 181.3 270.0 180.1 274.4 178.0 277.1 177.0 281.1 176.1 292.4 174.5 296.4 173.7 308.1 169.9 311.1 169.2 316.4 169.0 319.4 169.3 322.1 170.8 323.2 172.8 323.0 175.6 321.2 178.1 318.6 179.9 315.1 181.1 310.4 181.9 302.1 181.7 293.4 182.2 274.6 184.1ZM261.6 181.6 253.1 180.5 245.9 178.0 243.4 176.5 241.2 174.6 239.9 172.6 239.8 171.1 240.6 170.8 243.6 171.8 247.9 172.6 254.6 175.3 258.4 176.5 262.4 177.3 267.4 177.7 268.1 178.2 267.9 179.6 266.9 180.5 264.6 181.3 261.6 181.6Z"/>
<path fill="#b2182b" fill-rule="evenodd" d="M271.9 173.2 271.4 173.0 271.4 171.7 272.9 165.6 274.9 160.3 276.9 157.1 279.9 154.1 283.0 152.1 289.4 149.8 291.6 149.7 285.6 152.2 283.4 153.7 281.1 155.8 279.4 158.3 278.4 161.3 275.5 164.8 273.1 171.3 271.9 173.2ZM275.1 183.6 270.1 183.5 269.2 183.1 269.0 182.1 269.4 181.3 270.6 180.4 276.9 177.6 281.0 176.6 292.4 174.9 296.9 174.0 310.6 169.8 314.9 169.4 319.1 169.8 321.6 171.1 322.7 172.8 322.5 175.3 320.8 177.8 318.3 179.6 314.9 180.7 310.4 181.4 302.1 181.3 293.4 181.7 275.1 183.6ZM262.6 181.1 258.1 180.9 253.4 180.1 246.6 177.9 244.2 176.6 242.3 175.1 240.9 173.3 240.5 171.8 241.1 171.5 247.4 172.9 257.6 176.7 262.1 177.6 266.4 178.1 267.3 178.6 267.0 179.6 266.0 180.3 262.6 181.1Z"/>
<path fill="#e0edf7" fill-rule="evenodd" d="M290.1 173.1 286.1 172.9 283.4 171.8 281.9 170.6 280.7 169.1 279.7 166.1 279.7 164.1 280.2 161.1 281.3 158.3 284.4 155.1 288.1 152.9 292.6 151.6 299.6 151.2 302.4 150.6 303.6 150.9 305.9 152.2 306.9 152.3 312.9 149.2 315.4 148.2 318.6 147.5 322.9 147.1 326.6 147.4 329.6 148.0 331.9 149.0 334.4 151.1 338.4 152.0 338.4 169.1 335.1 169.0 332.1 168.3 329.9 167.2 326.6 164.9 325.1 164.4 321.4 163.9 316.6 164.1 313.0 164.6 308.2 166.1 301.6 170.1 297.9 171.6 293.4 172.7 290.1 173.1ZM266.6 176.1 264.6 176.3 261.6 175.9 258.4 174.8 255.1 173.3 251.4 170.9 250.0 167.6 248.6 166.1 247.9 166.1 246.1 167.4 243.4 167.2 240.1 167.8 238.1 167.6 237.5 167.1 237.2 166.3 237.7 163.8 238.9 161.8 240.9 160.2 243.1 159.2 246.4 158.6 250.4 158.7 253.9 159.2 258.4 160.4 262.1 162.1 262.9 162.1 264.1 161.0 270.1 154.3 271.4 153.5 272.6 153.5 273.3 154.3 273.2 155.6 268.4 161.6 266.6 164.6 266.7 165.6 268.5 169.3 268.8 172.1 268.3 174.8 267.6 175.7 266.6 176.1ZM323.1 186.4 321.4 186.6 319.9 186.2 318.8 185.3 318.8 184.3 319.4 183.6 320.6 183.0 322.1 182.9 323.6 183.2 324.4 183.8 324.7 184.8 324.2 185.8 323.1 186.4Z"/>
<path fill="#bad8eb" fill-rule="evenodd" d="M292.6 172.6 287.9 172.7 284.9 171.9 282.0 169.6 281.0 168.1 280.5 166.6 280.2 162.6 280.6 160.3 281.2 158.8 282.5 157.1 284.3 155.3 288.4 153.0 293.1 151.7 301.6 151.2 303.4 151.7 306.1 153.3 307.1 153.5 313.1 150.3 315.6 149.2 318.9 148.5 323.1 148.2 326.6 148.5 329.4 149.1 331.1 149.8 333.5 151.8 338.4 153.0 338.4 168.2 335.4 168.2 332.4 167.4 330.4 166.5 326.6 163.9 324.9 163.2 321.1 162.8 315.1 163.2 312.4 163.7 308.4 165.0 300.4 170.3 296.9 171.7 292.6 172.6ZM265.4 176.1 260.9 175.4 255.4 173.0 251.6 170.5 249.9 167.1 248.6 165.8 247.9 165.8 246.4 166.6 243.1 166.5 239.9 167.3 238.6 167.2 238.0 166.1 238.3 164.1 239.6 162.1 241.4 160.7 243.9 159.7 246.9 159.2 251.4 159.5 254.1 160.0 258.4 161.2 262.4 163.0 263.4 163.0 264.8 161.8 270.3 155.6 271.3 154.8 271.9 154.8 272.1 155.1 271.9 155.7 267.5 161.1 265.6 164.3 265.8 165.6 268.0 169.6 268.5 172.6 268.3 174.1 267.8 175.1 266.9 175.8 265.4 176.1ZM322.6 185.4 320.9 185.4 320.3 185.1 320.1 184.6 321.1 183.9 322.6 184.0 323.2 184.3 323.3 184.8 322.6 185.4Z"/>
<path fill="#8dbddd" fill-rule="evenodd" d="M292.1 172.3 287.6 172.3 284.6 171.2 282.1 168.8 281.3 167.3 280.9 165.8 280.6 161.6 281.6 158.6 283.0 156.8 284.9 155.2 289.1 152.9 293.6 151.8 301.4 151.6 303.1 152.1 306.1 154.0 307.6 154.4 316.1 150.3 319.1 149.7 323.4 149.3 328.9 150.1 330.4 150.6 333.1 152.4 338.4 153.7 338.4 167.6 335.1 167.5 332.4 166.8 330.1 165.6 325.9 162.7 324.1 162.0 320.6 161.7 314.6 162.1 311.9 162.7 308.4 164.0 302.4 168.7 299.6 170.3 296.4 171.5 292.1 172.3ZM265.6 175.8 261.3 175.3 255.9 172.9 251.8 170.1 249.9 166.7 248.6 165.6 247.9 165.5 246.1 166.2 242.6 166.1 239.4 166.8 238.8 166.6 238.5 165.8 238.9 164.1 240.1 162.3 242.1 160.8 244.9 159.9 247.6 159.7 251.9 160.0 255.4 160.7 259.1 162.0 262.4 163.6 264.1 164.0 267.0 168.3 268.1 171.8 268.1 173.3 267.8 174.6 266.9 175.5 265.6 175.8Z"/>
<path fill="#5c9ccc" fill-rule="evenodd" d="M291.1 172.1 287.9 171.9 285.6 171.2 283.6 169.8 282.0 167.8 281.3 165.8 280.9 161.3 281.6 159.1 283.4 156.8 285.8 154.8 289.2 153.1 292.4 152.2 296.1 151.8 302.1 152.2 307.8 155.8 308.4 156.8 308.7 158.1 308.5 161.3 307.5 163.3 305.5 165.6 301.8 168.6 299.1 170.1 295.7 171.3 291.1 172.1ZM338.4 167.0 335.1 166.9 332.1 166.0 328.6 164.0 325.5 161.3 324.7 159.6 324.8 157.3 325.6 155.1 327.1 153.3 328.6 152.3 330.1 152.1 338.4 154.2 338.4 167.0ZM265.4 175.6 261.4 175.0 256.1 172.6 251.9 169.7 249.9 166.4 248.6 165.3 247.9 165.2 246.1 165.7 242.9 165.6 239.9 166.3 239.3 166.1 239.0 165.6 239.3 164.1 240.4 162.6 241.9 161.4 243.9 160.6 246.4 160.2 252.6 160.5 259.4 162.6 263.9 164.9 265.7 167.1 266.9 169.1 267.7 171.6 267.7 173.6 266.9 175.1 265.4 175.6Z"/>
<path fill="#3c7eba" fill-rule="evenodd" d="M292.4 171.6 289.6 171.7 286.9 171.2 284.9 170.3 283.2 168.8 282.0 166.6 281.2 162.6 281.2 160.8 281.9 159.2 283.4 157.2 285.6 155.3 288.2 153.8 290.8 152.8 293.4 152.3 297.1 152.0 300.9 152.3 302.9 153.0 306.2 155.3 307.3 156.8 307.6 160.1 306.7 163.3 304.4 166.1 300.1 169.2 296.9 170.6 292.4 171.6ZM338.4 166.4 335.4 166.3 332.6 165.6 329.4 163.9 327.0 162.1 326.0 160.3 325.9 158.1 326.5 155.8 327.7 154.3 329.4 153.3 330.9 153.0 338.4 154.9 338.4 166.4ZM265.9 175.2 264.1 175.3 261.9 174.9 256.9 172.7 252.1 169.4 249.9 166.0 248.6 165.0 247.9 164.9 246.1 165.3 242.9 165.2 240.1 165.7 239.6 165.1 239.8 164.1 240.9 162.7 242.4 161.6 246.4 160.5 252.4 160.9 258.9 162.8 263.6 165.4 266.1 168.4 267.1 170.8 267.5 172.8 267.0 174.3 265.9 175.2Z"/>
<path fill="#2166ac" fill-rule="evenodd" d="M292.6 171.1 290.1 171.2 287.2 170.8 285.4 170.0 283.6 168.6 282.5 166.6 281.6 162.3 281.6 160.8 282.1 159.5 283.5 157.6 285.8 155.6 288.5 154.1 291.1 153.1 297.1 152.4 300.6 152.7 302.6 153.4 305.7 155.6 306.8 157.1 306.9 160.3 305.9 163.6 303.9 166.0 299.9 168.8 296.6 170.2 292.6 171.1ZM338.4 165.4 334.3 165.1 330.1 163.7 328.0 162.3 326.9 160.8 326.6 158.8 327.0 156.6 327.9 155.1 329.6 153.9 331.1 153.7 334.4 154.9 338.4 155.9 338.4 165.4ZM265.4 174.9 263.5 174.8 261.4 174.3 256.7 172.1 252.4 169.1 249.9 165.6 248.6 164.7 240.9 165.0 240.4 164.6 240.5 164.1 241.4 162.8 242.9 161.8 246.9 161.0 252.4 161.3 255.6 162.1 259.1 163.3 263.4 165.8 265.8 168.8 266.8 171.1 267.0 173.1 266.5 174.3 265.4 174.9Z"/>
<circle cx="244.3" cy="167.8" r="4.4" fill="#fff"/>
<circle cx="278.0" cy="166.4" r="4.4" fill="#fff"/>
</g>
<g clip-path="url(#cpIII)">
<path fill="#fde2d4" fill-rule="evenodd" d="M420.5 196.9 384.3 196.9 384.3 190.9 385.0 189.4 386.2 189.4 391.5 191.2 393.1 191.4 392.3 190.1 384.3 181.9 383.3 181.7 378.0 183.2 372.3 183.8 365.0 183.5 358.0 182.3 352.8 180.3 349.7 178.1 347.9 175.9 346.9 174.1 346.3 172.1 346.4 170.6 346.9 169.9 348.3 169.6 352.5 170.2 356.8 170.3 358.3 170.8 361.5 172.9 363.8 173.3 367.0 173.1 371.8 171.9 376.0 171.8 377.5 171.2 378.3 170.4 379.6 165.6 380.7 164.1 382.5 163.3 384.8 163.6 388.7 165.6 391.9 168.6 401.5 182.4 405.3 187.4 408.0 189.5 410.3 190.0 412.0 189.4 413.3 187.9 415.5 181.5 418.5 176.4 422.1 172.1 426.5 167.8 431.3 164.3 436.0 162.0 438.3 161.2 442.5 160.4 447.3 159.0 447.3 170.7 446.0 171.4 444.8 172.8 441.8 178.4 439.5 182.1 435.7 186.6 430.5 191.2 426.3 194.0 420.5 196.9Z"/>
<path fill="#f9c3a9" fill-rule="evenodd" d="M417.8 196.2 415.3 196.3 406.5 195.8 399.8 193.9 396.3 192.0 393.0 189.7 388.3 185.2 384.8 181.4 384.0 180.9 378.0 182.6 371.5 183.1 364.3 182.7 359.5 181.9 356.3 181.0 352.3 179.3 349.7 177.1 347.4 173.6 347.0 172.1 347.0 170.9 347.5 170.2 348.5 169.9 352.5 170.8 357.3 170.8 361.3 172.9 363.5 173.4 366.5 173.3 371.3 172.4 376.3 172.4 378.0 171.7 379.0 170.5 379.6 168.9 380.0 165.6 380.7 164.4 382.5 163.5 384.8 163.8 388.3 165.6 391.4 168.6 400.0 180.9 405.0 187.4 407.8 189.5 410.3 190.2 412.0 189.5 413.6 187.9 416.0 181.4 419.3 176.0 422.5 172.1 427.2 167.6 431.8 164.3 437.3 161.7 439.5 161.2 443.8 160.8 447.3 160.0 447.3 169.1 446.0 169.7 444.8 171.2 440.3 179.1 437.2 183.6 433.0 188.0 428.3 191.7 423.0 194.6 417.8 196.2Z"/>
<path fill="#f19b7e" fill-rule="evenodd" d="M416.3 195.6 406.0 195.0 402.8 194.3 399.3 193.0 393.3 189.3 384.3 180.4 383.3 180.4 377.8 182.2 371.5 182.7 364.0 182.2 359.5 181.5 356.3 180.5 352.5 178.9 350.1 176.9 348.0 173.9 347.5 172.4 347.5 171.1 348.0 170.5 348.8 170.3 352.5 171.2 357.5 171.2 361.5 173.2 363.5 173.6 366.3 173.5 371.0 172.9 376.3 172.9 378.2 172.1 379.4 170.9 380.0 168.9 380.4 165.4 381.0 164.4 382.5 163.7 384.5 163.9 387.9 165.6 391.0 168.6 399.6 180.9 404.8 187.4 407.8 189.7 410.3 190.4 412.0 189.7 413.7 188.1 416.8 181.2 419.3 176.9 422.9 172.4 427.8 167.6 432.3 164.4 438.0 161.8 439.8 161.4 441.8 161.4 443.5 161.9 444.6 162.6 446.4 165.4 446.4 166.9 440.2 178.4 436.5 183.6 432.3 187.9 427.5 191.5 422.0 194.3 418.8 195.3 416.3 195.6Z"/>
<path fill="#de6852" fill-rule="evenodd" d="M416.3 195.1 406.0 194.5 402.5 193.7 399.3 192.5 396.0 190.7 393.4 188.9 388.6 184.4 385.3 180.6 384.3 180.0 383.3 180.0 378.0 181.7 372.0 182.3 364.5 181.9 359.8 181.2 356.5 180.2 353.0 178.7 350.6 176.9 348.4 173.9 347.9 172.4 348.0 171.4 348.3 171.0 349.0 170.8 352.5 171.6 357.5 171.5 361.3 173.4 363.3 173.8 370.8 173.2 376.5 173.2 378.5 172.4 379.8 170.9 380.4 168.9 380.7 165.6 381.1 164.6 382.5 163.9 384.5 164.1 387.4 165.6 390.6 168.6 399.3 181.0 404.4 187.4 407.5 189.8 409.0 190.4 410.3 190.5 412.3 189.8 414.3 187.9 418.3 179.9 420.6 176.1 423.5 172.4 427.5 168.4 432.2 164.9 437.8 162.1 440.8 161.7 443.0 162.6 444.0 163.9 444.6 165.6 444.7 167.4 444.4 169.1 440.2 177.4 436.5 182.9 432.3 187.2 427.5 191.0 422.0 193.8 418.5 194.8 416.3 195.1Z"/>
<path fill="#c73d3b" fill-rule="evenodd" d="M416.8 194.6 406.5 194.2 403.0 193.4 399.8 192.3 396.8 190.8 393.8 188.7 388.9 184.1 385.5 180.3 384.3 179.6 383.3 179.6 378.0 181.4 372.5 182.0 364.8 181.6 357.3 180.1 353.5 178.6 351.3 177.0 349.0 174.2 348.4 171.9 348.8 171.4 349.3 171.3 352.5 172.0 357.8 171.9 361.3 173.6 363.3 174.0 370.5 173.6 376.5 173.6 378.8 172.6 380.0 171.2 380.8 168.9 381.1 165.4 381.5 164.6 382.8 164.1 384.5 164.4 387.2 165.9 390.3 168.9 398.9 181.1 404.0 187.4 407.5 190.0 409.0 190.7 410.3 190.8 412.8 189.7 415.1 187.6 421.7 175.6 424.7 171.9 428.0 168.6 432.2 165.4 437.5 162.5 440.0 162.0 442.3 162.7 443.3 163.9 443.9 165.6 444.0 167.6 443.7 169.6 439.8 177.2 436.3 182.4 432.0 186.9 427.5 190.5 422.0 193.3 416.8 194.6Z"/>
<path fill="#b2182b" fill-rule="evenodd" d="M416.3 194.1 406.3 193.7 403.0 193.0 399.8 191.9 396.5 190.1 394.0 188.4 389.2 183.9 385.7 179.9 384.5 179.2 383.3 179.2 378.3 180.9 373.3 181.5 365.8 181.3 360.0 180.4 355.7 179.1 352.3 177.4 349.8 174.7 349.0 172.4 349.5 171.9 352.8 172.4 357.8 172.3 361.3 173.9 363.3 174.3 376.8 174.0 379.0 173.0 380.4 171.4 381.1 169.4 381.4 165.9 381.8 165.0 382.8 164.5 384.3 164.6 387.0 166.1 390.0 169.1 398.6 181.4 403.8 187.6 407.3 190.2 409.0 191.0 410.3 191.0 413.2 189.9 416.0 187.6 422.5 175.7 425.5 171.9 428.5 168.9 432.7 165.6 437.8 162.8 440.0 162.4 442.0 163.1 442.9 164.4 443.4 165.9 443.5 167.9 443.1 169.9 438.8 177.9 435.5 182.5 431.5 186.6 427.0 190.2 421.8 192.9 418.4 193.9 416.3 194.1Z"/>
<path fill="#e0edf7" fill-rule="evenodd" d="M411.0 189.7 409.8 189.8 408.5 189.5 405.6 187.4 403.6 184.9 393.0 169.1 389.6 165.9 385.8 163.8 383.3 163.1 381.3 163.5 378.3 166.0 373.0 168.1 371.5 170.6 370.3 171.6 367.8 172.7 364.8 173.1 362.8 173.0 361.3 172.5 356.3 169.0 355.0 168.4 353.0 168.2 349.3 169.0 347.0 168.9 346.4 168.4 346.1 167.4 346.6 164.6 347.9 162.4 349.8 160.7 352.3 159.4 355.3 158.7 360.8 158.5 365.3 159.0 368.3 159.8 371.3 161.5 372.0 161.6 376.8 157.9 377.0 157.1 376.2 155.1 376.7 154.1 377.5 153.5 384.3 151.0 387.0 150.4 392.3 150.0 394.0 150.7 395.0 153.3 401.5 155.5 403.8 156.8 406.0 158.7 409.4 163.1 412.5 170.1 413.3 170.7 421.0 162.0 425.5 158.2 430.3 155.0 434.3 152.8 439.0 150.7 443.3 149.4 447.3 149.0 447.3 158.0 441.5 160.0 437.5 161.0 433.3 162.7 430.3 164.4 426.0 167.7 421.5 172.1 417.6 176.9 415.0 181.5 413.2 187.6 412.2 188.9 411.0 189.7Z"/>
<path fill="#bad8eb" fill-rule="evenodd" d="M410.5 189.6 408.3 189.2 405.6 187.1 402.4 182.6 396.5 173.2 393.6 169.1 390.1 165.9 386.0 163.7 383.3 163.0 381.3 163.3 378.0 165.5 372.5 167.3 370.9 170.4 369.3 171.9 367.4 172.6 365.0 173.0 362.8 172.9 361.3 172.4 358.9 170.6 356.5 168.3 355.0 167.6 352.8 167.5 349.0 168.6 347.5 168.5 346.8 167.4 347.1 165.1 348.2 163.1 349.8 161.6 351.5 160.5 354.3 159.6 360.3 159.3 365.3 159.7 368.8 160.8 371.8 162.7 377.8 158.3 382.0 156.0 389.5 154.2 395.3 154.3 398.5 155.0 401.5 156.3 403.8 157.7 405.9 159.6 409.2 164.1 412.3 172.1 413.0 172.9 413.8 172.3 418.0 166.6 421.0 163.4 425.5 159.5 429.8 156.5 434.0 154.1 439.3 151.8 443.8 150.5 447.3 150.2 447.3 157.2 445.3 157.7 441.0 159.6 436.8 160.9 432.5 162.7 429.8 164.3 425.8 167.4 421.2 171.9 417.4 176.6 414.9 181.1 412.9 187.6 411.8 189.1 410.5 189.6Z"/>
<path fill="#8dbddd" fill-rule="evenodd" d="M410.8 189.4 409.8 189.5 408.5 189.1 405.9 187.1 404.1 184.6 397.5 173.9 394.0 169.1 390.6 165.9 386.3 163.6 383.8 162.9 382.0 162.9 378.0 165.0 374.5 166.3 372.3 166.7 371.8 167.1 370.5 170.1 369.5 171.4 367.5 172.4 365.0 172.8 362.8 172.7 361.2 172.1 359.0 170.4 356.8 167.9 355.3 167.2 352.5 167.1 349.0 168.2 348.0 168.1 347.3 167.1 347.6 165.1 348.6 163.4 350.3 161.8 352.0 160.8 354.5 160.0 360.5 159.7 365.5 160.2 368.8 161.3 371.3 163.4 371.8 163.5 377.5 159.0 382.3 156.6 390.0 154.8 395.8 154.8 398.5 155.5 401.5 156.8 403.8 158.3 406.0 160.4 408.9 164.6 412.0 173.1 412.5 173.9 413.0 174.1 414.0 173.3 418.2 167.4 421.0 164.4 425.8 160.3 429.5 157.6 434.3 154.9 439.8 152.7 444.0 151.7 447.3 151.8 447.3 155.8 444.8 156.8 440.3 159.1 435.8 160.8 431.0 163.0 426.0 166.7 421.6 170.9 418.2 174.9 415.8 178.4 414.5 181.1 412.9 187.4 412.0 188.6 410.8 189.4Z"/>
<path fill="#5c9ccc" fill-rule="evenodd" d="M410.8 189.2 409.8 189.3 408.5 188.9 405.8 186.6 397.8 173.6 393.5 167.9 390.5 165.4 386.8 163.5 384.0 162.7 382.0 162.7 378.3 164.5 374.8 165.7 372.0 166.0 371.4 166.6 370.4 169.6 369.3 171.1 367.5 172.1 365.0 172.6 362.8 172.5 361.2 171.9 359.4 170.4 357.3 167.8 355.5 166.9 352.6 166.6 349.3 167.7 348.3 167.6 347.8 166.6 348.1 165.1 349.4 163.1 351.3 161.6 354.0 160.5 356.8 160.2 362.0 160.2 366.8 161.0 369.0 161.9 371.3 164.2 371.8 164.3 376.8 160.0 382.3 157.0 390.0 155.2 396.0 155.3 398.8 156.0 401.5 157.3 403.8 158.9 405.9 160.9 408.4 164.6 411.8 173.9 412.4 174.9 413.0 175.2 414.0 174.5 419.5 167.0 422.4 164.1 425.8 161.4 429.0 159.1 433.1 156.9 436.0 155.9 437.8 155.9 438.1 156.9 437.2 158.4 430.3 162.5 426.5 165.4 421.5 170.2 418.3 173.9 416.2 176.9 414.8 179.4 412.6 187.4 411.8 188.6 410.8 189.2Z"/>
<path fill="#3c7eba" fill-rule="evenodd" d="M410.8 188.9 409.8 189.0 408.5 188.6 406.2 186.6 396.2 170.6 393.5 167.4 390.8 165.1 387.0 163.3 383.3 162.4 381.3 162.6 378.3 164.1 374.3 165.4 372.8 165.1 372.9 164.1 374.5 162.4 377.3 160.1 380.8 158.1 383.3 157.1 390.8 155.6 395.3 155.6 397.8 156.1 400.4 157.1 402.5 158.3 404.5 160.0 406.3 162.0 408.7 166.1 411.8 174.9 412.5 176.0 413.3 176.3 414.4 175.6 419.8 168.5 421.8 166.8 422.8 166.3 422.2 167.6 417.2 173.9 415.4 176.6 414.3 179.4 412.6 186.9 411.8 188.2 410.8 188.9ZM366.5 172.1 363.8 172.3 361.8 171.9 359.8 170.4 357.5 167.5 355.5 166.4 352.8 166.2 348.8 167.1 348.3 166.4 348.6 165.1 349.5 163.5 351.0 162.2 352.8 161.4 355.0 160.7 361.8 160.6 365.0 161.0 367.5 161.6 369.8 163.1 370.8 164.6 371.1 165.6 370.5 168.4 369.6 170.1 368.3 171.4 366.5 172.1Z"/>
<path fill="#2166ac" fill-rule="evenodd" d="M410.5 188.7 408.7 188.4 406.4 186.4 396.9 170.9 393.9 167.1 391.3 165.0 387.8 163.2 383.3 162.1 381.3 162.3 378.3 163.6 374.5 164.8 373.7 164.6 374.0 163.6 377.0 160.9 381.3 158.4 384.8 157.1 389.3 156.2 392.3 156.0 396.1 156.1 399.3 157.1 402.2 158.6 404.8 160.9 407.3 164.2 409.0 168.1 411.4 175.4 413.6 178.4 413.5 181.4 412.5 186.3 411.7 187.9 410.5 188.7ZM366.0 171.9 363.3 172.0 361.5 171.4 360.1 170.1 358.0 167.4 356.3 166.2 353.3 165.7 349.3 166.4 349.0 165.9 349.1 165.1 350.0 163.7 351.3 162.6 353.3 161.6 355.3 161.1 362.0 161.0 365.0 161.4 367.5 162.1 368.9 162.9 369.8 163.9 370.4 165.1 370.4 166.6 369.9 168.6 369.0 170.2 367.6 171.4 366.0 171.9Z"/>
<circle cx="353.9" cy="168.3" r="4.4" fill="#fff"/>
<circle cx="375.9" cy="168.3" r="4.4" fill="#fff"/>
</g>
<g clip-path="url(#cpQCS)">
<path fill="#fde2d4" fill-rule="evenodd" d="M37.0 206.1 30.0 206.2 26.5 205.4 24.0 204.4 21.9 202.9 20.4 200.9 19.6 198.6 19.7 196.9 20.3 196.2 21.5 196.1 26.9 197.6 31.0 198.2 34.8 198.3 38.3 197.8 41.0 196.4 42.5 194.9 43.5 193.0 46.8 180.1 48.2 176.4 49.7 173.6 51.5 171.1 53.8 169.1 57.3 167.3 58.5 167.2 59.1 167.9 59.1 169.1 56.6 172.9 55.5 175.4 52.2 191.4 51.2 194.6 49.7 197.9 47.2 201.4 44.3 203.9 40.5 205.5 37.0 206.1ZM118.3 215.2 115.3 215.1 112.0 214.5 100.8 211.8 98.0 210.6 96.0 208.6 95.2 206.4 95.4 205.4 96.0 204.4 98.6 202.4 98.6 202.1 98.0 201.9 94.5 202.1 92.3 202.7 91.9 203.4 91.6 206.4 90.9 208.1 89.0 210.1 86.8 211.2 84.3 211.8 81.5 211.9 77.8 211.5 74.3 210.5 68.5 208.0 63.3 204.2 60.1 200.1 58.9 197.4 58.9 196.1 59.5 195.5 60.5 195.6 65.7 199.9 67.4 200.9 69.5 201.2 71.0 200.7 72.7 197.1 74.6 189.1 77.7 179.9 79.0 177.9 79.8 177.5 80.8 177.5 81.8 178.3 82.2 179.9 81.2 187.9 81.4 194.9 81.8 196.1 82.8 196.9 85.0 197.2 86.7 195.1 89.0 193.8 94.5 191.5 100.0 190.4 104.8 190.0 108.5 190.1 118.3 192.0 118.3 215.2Z"/>
<path fill="#f9c3a9" fill-rule="evenodd" d="M34.8 205.6 28.8 205.3 26.3 204.7 24.0 203.7 22.3 202.3 20.9 200.4 20.2 198.4 20.5 196.9 21.8 196.5 26.5 198.1 34.0 198.5 38.0 198.0 41.0 196.6 42.8 194.9 43.8 192.9 46.9 180.6 48.4 176.6 49.7 174.1 51.5 171.5 53.8 169.5 56.5 168.0 58.0 167.9 58.5 168.4 58.6 169.4 56.1 173.1 54.8 176.1 53.8 179.7 51.2 192.4 50.1 195.4 48.6 198.4 46.3 201.4 43.3 203.8 39.0 205.2 34.8 205.6ZM118.3 214.4 115.5 214.3 112.5 213.8 101.0 210.6 98.8 209.7 97.3 208.4 96.5 206.4 97.3 205.0 100.5 203.4 107.4 201.4 108.1 200.6 107.0 199.9 103.3 199.6 98.3 199.8 91.8 200.9 91.0 201.9 91.2 204.9 90.9 206.4 89.5 208.7 88.3 209.8 86.5 210.6 84.3 211.1 81.8 211.2 77.8 210.8 74.3 209.8 70.5 208.3 67.5 206.6 64.5 204.3 62.3 202.1 61.0 199.9 60.6 197.9 60.8 197.7 61.5 197.9 67.8 201.3 70.0 201.6 71.3 201.0 72.7 197.9 74.9 190.1 78.3 180.1 79.3 178.6 80.0 178.2 80.8 178.2 81.5 178.9 81.9 180.4 80.9 187.1 80.6 195.1 81.1 196.6 82.5 197.6 85.0 198.4 86.3 198.4 87.0 197.9 88.0 196.4 89.8 195.4 95.4 193.1 100.5 192.1 108.3 191.9 118.3 193.8 118.3 214.4Z"/>
<path fill="#f19b7e" fill-rule="evenodd" d="M35.8 205.1 29.8 205.0 26.5 204.3 24.5 203.5 22.7 202.1 21.4 200.4 20.7 198.6 20.9 197.4 21.3 197.0 22.0 197.0 25.0 198.1 27.0 198.5 34.5 198.7 38.5 198.1 41.3 196.7 43.0 194.9 44.0 192.9 47.2 180.6 49.7 174.6 51.5 172.0 53.8 169.9 56.3 168.6 57.8 168.6 58.0 169.1 57.9 169.9 55.7 173.1 54.1 176.9 50.9 191.9 49.9 194.9 48.4 197.9 46.2 200.9 43.3 203.2 39.3 204.7 35.8 205.1ZM84.0 210.6 81.3 210.7 77.5 210.2 74.0 209.2 70.5 207.7 67.3 205.8 64.4 203.6 62.6 201.6 61.9 199.9 62.2 199.4 62.8 199.4 66.8 201.3 68.8 201.8 70.5 201.9 71.5 201.4 72.5 199.3 75.1 190.6 78.7 180.6 79.3 179.4 80.3 178.8 81.1 179.1 81.5 180.4 80.6 187.6 80.1 194.4 80.4 196.4 81.0 197.3 81.9 197.9 88.8 200.0 89.9 201.4 90.6 204.1 90.4 206.4 89.0 208.6 87.0 209.9 84.0 210.6ZM118.3 213.9 114.5 213.7 110.0 212.4 102.2 208.1 100.9 206.9 102.5 205.6 111.3 201.3 114.8 200.2 118.3 200.0 118.3 213.9Z"/>
<path fill="#de6852" fill-rule="evenodd" d="M37.0 204.6 30.5 204.7 25.5 203.5 23.6 202.4 22.2 200.9 21.3 199.1 21.3 197.9 22.3 197.6 27.0 198.9 34.8 198.9 38.5 198.3 41.5 196.8 43.3 194.9 44.4 192.6 47.3 181.1 49.8 175.1 51.3 172.9 53.3 170.9 55.5 169.5 57.0 169.3 57.1 170.1 55.0 173.4 53.7 176.6 50.6 191.4 49.6 194.4 48.2 197.4 46.0 200.5 43.3 202.8 39.8 204.2 37.0 204.6ZM84.5 210.2 82.0 210.3 78.3 210.0 72.0 208.0 69.0 206.4 66.0 204.4 63.9 202.4 63.1 200.9 63.3 200.5 63.8 200.5 67.3 201.8 69.5 202.3 71.0 202.2 71.9 201.6 72.5 200.4 75.4 191.1 78.8 181.6 79.5 180.0 80.3 179.4 81.0 179.9 81.2 180.9 79.7 193.6 80.0 196.6 80.7 197.6 81.5 198.2 88.4 200.6 89.5 201.9 90.2 204.1 90.1 206.1 88.9 208.1 87.0 209.4 84.5 210.2ZM118.3 213.5 115.3 213.4 112.3 212.7 109.8 211.8 108.0 210.6 107.1 209.4 106.7 207.6 107.1 205.6 108.1 204.1 109.8 202.8 112.0 201.7 115.0 201.0 118.3 200.8 118.3 213.5Z"/>
<path fill="#c73d3b" fill-rule="evenodd" d="M35.8 204.4 30.3 204.3 25.8 203.2 24.2 202.4 22.8 201.1 22.0 199.9 21.8 198.6 22.5 198.1 25.8 199.1 27.8 199.3 35.5 199.1 39.3 198.3 41.8 196.9 43.4 195.1 44.7 192.6 47.5 181.4 49.5 176.3 52.3 172.5 54.0 171.1 55.2 170.9 52.7 178.4 50.0 192.1 47.8 197.4 45.6 200.4 42.9 202.6 39.3 203.9 35.8 204.4ZM83.5 209.9 78.0 209.5 72.8 207.9 67.3 204.9 65.3 203.1 64.4 201.9 65.0 201.6 70.3 202.7 71.5 202.4 72.3 201.8 78.5 183.6 79.5 181.1 80.3 180.3 80.6 180.6 80.6 181.6 79.3 194.1 79.7 196.9 80.4 197.9 81.3 198.5 88.0 201.0 89.2 202.4 89.9 204.4 89.6 206.4 88.3 208.2 86.3 209.3 83.5 209.9ZM118.3 213.2 115.3 213.0 112.5 212.4 110.3 211.6 108.6 210.4 107.7 209.1 107.4 207.4 107.9 205.6 108.9 204.1 110.5 202.9 112.5 202.0 115.3 201.4 118.3 201.3 118.3 213.2Z"/>
<path fill="#b2182b" fill-rule="evenodd" d="M36.8 203.9 31.0 204.0 26.6 203.1 25.0 202.4 23.6 201.4 22.7 200.1 22.5 199.1 23.3 198.9 28.0 199.7 35.5 199.4 39.0 198.7 42.0 197.1 43.6 195.4 44.9 192.9 47.8 181.9 49.3 177.8 51.0 174.9 52.0 173.9 52.8 173.6 52.9 174.6 50.0 189.9 49.0 193.6 47.8 196.6 45.5 199.9 43.0 202.0 39.8 203.4 36.8 203.9ZM84.0 209.4 78.5 209.2 74.0 207.9 68.5 205.1 66.9 203.9 66.3 202.9 70.8 203.1 71.8 202.8 72.6 202.1 76.5 190.3 78.5 185.2 79.5 183.7 79.5 188.4 78.9 194.4 79.3 197.1 80.0 198.1 81.0 198.9 87.7 201.4 88.8 202.5 89.4 204.1 89.3 205.9 88.2 207.6 86.5 208.8 84.0 209.4ZM118.3 212.8 115.5 212.7 112.8 212.1 110.5 211.2 109.0 210.2 108.2 208.9 107.9 207.4 108.3 205.9 109.3 204.5 110.8 203.3 112.8 202.4 115.3 201.8 118.3 201.7 118.3 212.8Z"/>
<path fill="#e0edf7" fill-rule="evenodd" d="M37.0 197.9 34.5 198.1 30.8 197.9 26.0 196.3 19.8 195.3 18.9 194.6 18.6 193.4 18.6 191.4 19.2 189.6 20.5 187.6 22.3 186.0 24.5 185.0 27.0 184.6 30.3 184.7 33.0 185.2 39.3 187.9 40.3 187.9 41.3 185.4 43.2 176.1 44.4 173.1 46.2 169.9 48.5 167.2 52.7 164.1 56.9 164.1 57.3 165.4 57.1 166.4 53.5 168.6 51.8 170.2 49.8 172.6 48.2 175.6 46.2 181.1 44.0 190.4 42.7 194.1 40.4 196.6 37.0 197.9ZM85.8 192.4 84.0 192.5 82.5 191.5 81.8 189.9 81.7 187.1 82.7 180.6 82.8 176.9 84.8 173.6 87.5 170.9 90.3 169.0 93.3 167.5 99.5 165.7 106.8 165.0 118.3 165.5 118.3 181.2 113.0 181.8 98.7 185.4 93.0 187.9 85.8 192.4ZM69.8 200.7 67.5 200.5 65.6 198.9 65.0 197.4 64.8 193.9 61.3 190.9 60.1 189.6 57.2 184.1 56.1 181.1 55.8 177.4 56.6 173.6 60.0 168.8 61.8 167.8 64.5 167.8 67.8 169.1 69.9 171.4 71.1 174.4 72.3 182.8 73.4 188.4 73.5 191.4 73.0 194.6 72.1 197.9 71.0 199.9 69.8 200.7Z"/>
<path fill="#bad8eb" fill-rule="evenodd" d="M36.0 197.9 31.0 197.7 26.0 195.7 22.5 195.5 20.3 195.0 19.5 194.1 19.2 192.9 19.4 191.1 20.0 189.6 21.3 187.8 23.0 186.4 25.3 185.6 27.5 185.3 30.3 185.4 33.0 186.0 39.8 189.0 40.9 188.9 41.9 186.4 43.8 176.9 46.3 171.3 48.3 168.6 51.0 166.3 54.0 164.9 55.8 164.9 56.4 165.6 56.2 166.4 53.3 168.3 51.5 169.9 49.7 172.1 47.9 175.4 45.9 180.9 43.3 192.0 42.5 194.1 41.3 195.6 40.0 196.7 38.3 197.4 36.0 197.9ZM85.3 191.1 84.3 191.1 83.3 190.6 82.6 189.6 82.3 188.6 83.5 178.4 84.2 176.4 85.4 174.4 88.8 171.0 91.3 169.4 94.0 168.2 100.0 166.8 106.8 166.3 118.3 166.8 118.3 179.9 112.8 180.5 97.9 184.4 92.5 186.7 85.3 191.1ZM69.3 200.4 67.5 200.2 66.3 199.1 65.8 197.6 65.8 194.6 65.5 193.4 60.9 189.4 57.7 183.4 56.6 180.1 56.3 176.4 57.1 173.1 60.0 169.4 62.0 168.5 64.5 168.5 67.5 169.8 69.3 171.9 70.4 174.6 71.5 183.1 72.9 189.4 73.0 192.4 72.6 195.4 71.7 198.1 70.5 199.8 69.3 200.4Z"/>
<path fill="#8dbddd" fill-rule="evenodd" d="M36.5 197.6 31.5 197.5 29.8 197.0 26.3 195.3 20.8 194.8 20.0 194.1 19.7 193.1 19.8 191.4 20.4 189.9 21.6 188.1 23.3 186.8 25.3 186.0 27.8 185.8 30.3 185.9 33.0 186.4 40.0 189.6 41.0 189.8 41.8 189.5 42.4 188.6 43.2 186.6 44.8 177.4 46.8 172.5 48.5 169.9 50.1 168.4 52.7 166.6 54.3 166.4 50.2 170.1 48.7 172.4 46.9 175.9 43.9 184.6 42.8 192.4 42.2 194.1 40.0 196.5 36.5 197.6ZM93.3 184.2 90.8 184.1 88.5 183.3 86.5 181.9 85.2 180.1 84.7 178.1 85.1 176.1 86.1 174.4 88.0 172.3 90.5 170.5 93.3 169.2 96.0 168.3 99.8 167.6 103.5 167.4 106.5 167.7 108.8 168.5 110.2 169.6 111.4 171.9 111.6 174.4 110.9 176.6 109.1 178.9 106.6 180.4 102.5 182.0 93.3 184.2ZM69.5 200.0 67.8 199.9 66.7 198.9 66.2 197.6 66.4 194.6 66.0 193.2 65.3 192.3 62.5 190.3 61.4 189.1 58.4 183.6 57.2 180.4 56.7 176.6 57.3 173.4 59.8 170.1 61.8 169.1 64.3 169.0 67.0 170.1 68.9 172.1 69.9 174.6 70.8 181.6 72.4 189.4 72.7 192.4 72.4 194.9 71.7 197.4 70.8 199.1 69.5 200.0Z"/>
<path fill="#5c9ccc" fill-rule="evenodd" d="M96.0 182.6 93.0 182.7 90.3 182.2 88.3 181.3 86.6 179.9 85.7 178.4 85.6 176.6 86.4 174.9 87.9 173.1 90.3 171.3 92.8 169.9 95.5 169.0 99.0 168.3 102.3 168.2 105.3 168.5 107.3 169.2 108.8 170.4 109.9 172.1 110.1 174.1 109.4 176.1 107.9 177.9 105.8 179.5 102.8 181.0 99.8 182.0 96.0 182.6ZM69.3 199.6 68.0 199.6 67.0 198.7 66.6 197.4 66.8 194.6 66.5 193.1 65.5 191.9 62.8 190.0 61.7 188.9 58.7 183.4 57.6 180.1 57.1 176.4 57.7 173.4 59.8 170.6 62.0 169.5 64.3 169.4 66.8 170.5 68.4 172.1 69.5 174.6 70.5 182.4 72.0 189.4 72.3 192.6 72.1 195.1 71.4 197.4 70.4 198.9 69.3 199.6ZM36.8 197.4 31.8 197.2 30.0 196.7 26.3 194.9 21.3 194.6 20.5 194.1 20.1 193.1 20.6 190.4 21.9 188.4 23.8 187.0 26.0 186.3 28.8 186.2 33.8 187.1 42.0 190.9 42.4 191.6 42.4 192.9 41.4 194.9 39.5 196.5 36.8 197.4Z"/>
<path fill="#3c7eba" fill-rule="evenodd" d="M97.0 181.9 92.0 182.0 90.0 181.5 88.3 180.6 87.0 179.4 86.2 177.9 86.2 176.4 86.9 174.9 88.8 172.9 91.3 171.1 93.8 170.0 96.8 169.2 100.5 168.7 104.0 168.9 106.5 169.6 108.4 170.9 109.3 172.4 109.5 174.1 108.9 175.6 107.5 177.3 105.5 178.9 102.5 180.5 97.0 181.9ZM69.3 199.2 68.3 199.2 67.4 198.4 67.1 197.1 67.2 194.4 66.8 192.9 65.9 191.6 63.0 189.7 62.0 188.6 59.1 183.1 58.0 180.1 57.5 176.4 58.0 173.5 59.8 171.1 62.0 169.9 64.3 169.9 66.5 170.8 68.1 172.4 69.0 174.6 70.0 182.4 71.6 189.6 71.9 192.6 71.7 194.9 71.2 196.9 70.4 198.4 69.3 199.2ZM36.8 197.1 32.0 197.0 30.1 196.4 26.5 194.6 21.5 194.2 20.6 193.1 20.9 190.6 22.8 188.1 24.0 187.3 25.8 186.7 30.0 186.6 34.5 187.8 41.1 191.1 41.9 192.1 41.8 193.6 40.5 195.4 39.0 196.5 36.8 197.1Z"/>
<path fill="#2166ac" fill-rule="evenodd" d="M96.8 181.4 92.0 181.4 88.8 180.2 87.5 179.1 86.8 177.9 86.7 176.6 87.3 175.1 89.0 173.2 91.5 171.5 94.0 170.4 97.0 169.6 100.8 169.2 104.0 169.4 106.3 170.1 108.1 171.4 108.9 172.9 108.8 174.4 108.1 175.9 106.8 177.3 104.8 178.7 102.0 180.1 96.8 181.4ZM69.0 198.7 68.3 198.6 67.6 197.6 67.7 194.1 67.1 192.4 66.3 191.4 63.4 189.4 62.3 188.2 59.5 183.0 58.4 179.9 58.0 176.4 58.4 173.6 60.0 171.4 62.0 170.4 64.0 170.3 66.3 171.2 67.8 172.8 68.6 174.9 69.6 182.6 71.2 189.6 71.5 192.6 71.3 194.9 70.8 196.8 70.0 198.0 69.0 198.7ZM36.0 196.9 31.3 196.4 26.3 194.1 21.8 193.8 21.2 193.4 21.0 192.6 21.4 190.6 23.3 188.3 26.1 187.1 30.3 187.1 34.8 188.4 40.4 191.4 41.4 192.6 41.0 194.1 39.8 195.6 38.3 196.4 36.0 196.9Z"/>
<circle cx="25.2" cy="193.6" r="4.4" fill="#fff"/>
<circle cx="64.5" cy="192.9" r="4.4" fill="#fff"/>
</g>
<g clip-path="url(#cpCS)">
<path fill="#fde2d4" fill-rule="evenodd" d="M198.5 171.9 197.5 172.0 196.5 171.5 195.5 170.6 194.9 169.4 195.0 167.1 195.8 166.2 196.8 165.7 198.3 165.6 199.5 166.1 200.7 167.1 201.2 168.1 201.2 169.1 200.6 170.4 199.6 171.4 198.5 171.9ZM132.8 197.9 128.8 197.6 125.8 196.2 124.3 194.9 123.3 193.6 122.8 192.1 123.0 190.9 124.3 190.2 127.3 190.3 128.5 190.0 130.7 187.9 134.1 185.6 146.8 178.8 150.0 178.2 151.3 178.5 152.3 179.3 153.1 181.1 152.6 184.1 150.8 186.6 148.3 189.3 144.3 192.8 140.5 195.2 136.0 197.2 132.8 197.9ZM181.5 215.4 177.2 215.4 174.5 212.9 172.9 210.4 171.4 206.9 168.8 197.4 168.0 196.8 165.0 195.8 164.3 194.8 163.6 192.9 163.8 191.4 166.6 190.4 169.8 188.6 171.3 187.2 173.4 183.9 175.0 182.9 176.5 182.9 178.0 183.5 180.1 185.6 182.3 190.1 184.4 197.1 185.2 202.6 185.0 209.4 183.7 212.9 181.5 215.4ZM155.5 193.1 154.3 188.9 154.0 186.8 154.5 187.2 155.0 188.5 155.5 191.1 155.5 193.1ZM210.0 209.1 204.0 209.1 198.0 208.0 192.5 206.2 189.0 204.4 187.4 202.9 186.7 201.1 186.1 194.4 186.5 192.4 188.5 191.2 194.8 189.8 204.8 189.2 211.3 189.8 216.5 190.8 222.5 192.7 227.5 195.0 227.5 205.1 216.0 208.3 210.0 209.1ZM161.0 213.6 160.1 213.1 159.4 211.4 157.5 204.1 156.8 198.9 157.3 199.5 159.4 206.9 161.5 212.6 161.5 213.4 161.0 213.6ZM168.8 213.4 168.0 213.2 167.8 212.6 168.3 209.9 169.4 212.1 169.4 212.9 168.8 213.4Z"/>
<path fill="#f9c3a9" fill-rule="evenodd" d="M198.5 170.9 197.3 170.7 196.2 169.4 196.2 167.9 197.0 167.0 198.7 167.1 199.9 168.4 199.8 169.9 198.5 170.9ZM133.0 197.1 129.3 197.0 126.5 195.9 124.2 193.6 123.7 192.4 123.8 191.4 124.8 190.8 127.5 191.0 128.9 190.6 131.3 187.9 134.0 185.9 146.5 179.1 149.8 178.3 151.1 178.6 152.1 179.4 152.8 181.1 152.3 183.4 150.3 186.1 147.0 189.5 142.8 193.0 140.3 194.6 135.8 196.6 133.0 197.1ZM180.5 214.9 179.3 215.1 177.8 214.7 176.3 213.8 174.7 212.1 173.2 209.6 171.7 205.9 169.3 196.9 165.0 194.7 163.9 192.9 164.0 191.9 164.5 191.4 169.0 189.7 170.8 188.5 172.0 187.0 173.7 183.9 175.0 183.0 176.3 183.1 177.6 183.6 179.9 186.4 182.4 192.1 183.9 198.1 184.6 204.6 184.3 209.4 183.7 211.6 182.9 213.1 181.8 214.2 180.5 214.9ZM208.8 208.1 205.0 208.1 202.3 207.6 199.5 206.3 197.7 204.6 196.8 202.4 196.9 199.6 198.2 196.9 200.3 195.0 202.3 193.9 204.5 193.3 207.3 193.0 209.8 193.2 213.8 194.4 215.5 195.6 216.9 197.1 217.8 199.1 218.1 201.1 217.8 203.1 217.0 204.9 215.6 206.1 214.0 207.0 211.5 207.8 208.8 208.1Z"/>
<path fill="#f19b7e" fill-rule="evenodd" d="M133.5 196.6 129.8 196.6 127.3 195.8 124.9 193.9 124.4 192.9 124.4 191.9 125.0 191.4 127.8 191.4 129.3 191.0 131.8 187.9 134.0 186.1 146.3 179.4 149.5 178.5 150.8 178.7 151.8 179.4 152.6 180.9 152.1 182.9 150.2 185.6 147.0 188.9 144.3 191.3 140.8 193.7 136.5 195.8 133.5 196.6ZM180.5 214.4 179.3 214.6 177.8 214.2 176.3 213.3 175.0 211.9 173.6 209.6 171.9 205.4 169.6 196.6 169.0 196.1 165.7 194.6 164.9 193.9 164.4 192.9 164.4 192.1 164.9 191.6 169.0 190.1 171.0 188.8 172.3 187.3 173.8 184.1 175.0 183.2 176.3 183.3 177.5 183.9 179.9 187.1 182.1 192.4 183.5 197.9 184.2 204.4 183.9 209.4 182.6 212.9 181.6 213.9 180.5 214.4ZM209.5 207.4 206.3 207.5 203.3 207.1 201.3 206.3 199.5 204.9 198.4 202.9 198.1 200.6 198.9 198.4 200.3 196.8 201.8 195.8 203.8 195.0 208.3 194.5 212.0 195.2 214.0 196.3 215.3 197.4 216.1 198.6 216.7 200.4 216.7 202.1 216.0 203.9 215.0 205.1 213.5 206.2 211.5 207.0 209.5 207.4Z"/>
<path fill="#de6852" fill-rule="evenodd" d="M134.0 196.1 130.5 196.3 128.0 195.7 125.7 194.1 125.1 193.1 125.1 192.4 125.8 191.9 128.0 191.8 129.5 191.4 132.3 187.9 134.0 186.4 146.3 179.6 149.5 178.8 150.8 179.0 151.7 179.6 152.3 181.1 151.6 182.9 149.6 185.6 146.3 189.0 140.5 193.4 136.8 195.2 134.0 196.1ZM180.0 214.1 178.8 214.1 177.3 213.6 175.1 211.4 173.7 208.9 172.1 204.9 170.0 196.5 169.3 195.8 166.0 194.4 164.8 192.9 164.9 192.1 165.5 191.6 169.3 190.4 171.3 189.0 172.7 187.4 174.1 184.1 175.3 183.4 176.5 183.6 177.6 184.4 179.9 187.9 182.0 193.1 183.3 199.1 183.9 205.4 183.5 209.6 182.1 212.9 181.3 213.6 180.0 214.1ZM209.3 206.9 206.5 207.0 203.8 206.6 201.8 205.9 200.1 204.6 199.0 202.9 198.7 200.9 199.2 199.1 200.5 197.4 203.5 195.7 208.0 195.2 211.8 195.8 213.5 196.7 214.8 197.7 215.7 199.1 216.1 200.6 216.0 202.1 215.4 203.6 214.4 204.9 213.0 205.8 209.3 206.9Z"/>
<path fill="#c73d3b" fill-rule="evenodd" d="M133.0 195.9 130.3 195.9 128.3 195.4 126.4 194.1 125.8 192.9 126.3 192.5 128.5 192.2 129.8 191.7 132.7 187.9 134.1 186.6 145.9 180.1 149.3 179.0 150.5 179.2 151.6 179.9 151.9 181.4 150.9 183.4 148.7 186.1 145.0 189.6 141.8 192.2 139.3 193.7 135.3 195.4 133.0 195.9ZM180.5 213.6 179.3 213.8 177.8 213.5 175.5 211.4 174.2 209.1 172.5 205.0 170.3 196.2 169.5 195.5 166.5 194.3 165.3 192.9 165.3 192.4 165.8 191.9 169.5 190.6 171.5 189.3 173.0 187.4 174.3 184.4 175.3 183.7 176.3 183.8 177.3 184.5 179.5 187.9 181.5 192.9 182.8 198.1 183.5 204.1 183.4 208.6 182.3 212.0 181.5 213.0 180.5 213.6ZM209.5 206.4 206.8 206.6 204.3 206.3 202.3 205.6 200.8 204.6 199.7 203.1 199.2 201.4 199.5 199.6 200.5 198.1 201.6 197.1 203.3 196.3 207.3 195.6 211.0 196.1 214.0 197.7 215.0 198.9 215.6 200.4 215.6 201.9 215.1 203.1 214.3 204.3 213.0 205.2 209.5 206.4Z"/>
<path fill="#b2182b" fill-rule="evenodd" d="M133.5 195.4 131.0 195.5 129.0 195.2 127.5 194.4 126.8 193.4 127.3 192.9 129.0 192.5 130.3 191.8 133.0 188.1 134.7 186.6 143.3 181.9 148.3 179.5 150.0 179.5 151.2 180.1 151.4 181.4 150.3 183.5 148.1 186.1 144.7 189.4 139.4 193.1 135.5 194.8 133.5 195.4ZM180.0 213.4 178.8 213.4 177.8 213.0 175.6 210.9 174.3 208.5 172.8 204.6 170.7 196.1 169.8 195.1 166.8 194.0 165.9 192.9 166.3 192.1 169.8 190.9 172.0 189.4 173.3 187.6 174.6 184.6 175.3 184.1 176.0 184.1 177.1 184.9 179.4 188.4 181.3 193.4 182.5 198.7 183.1 204.6 182.9 208.9 181.8 212.1 181.0 212.9 180.0 213.4ZM209.8 205.9 205.0 206.0 203.0 205.4 201.5 204.6 200.3 203.2 199.7 201.6 199.9 200.1 200.7 198.6 201.8 197.6 203.3 196.8 207.0 196.1 210.8 196.5 213.5 197.9 214.4 198.9 215.0 200.1 215.1 201.4 214.8 202.8 213.0 204.7 209.8 205.9Z"/>
<path fill="#e0edf7" fill-rule="evenodd" d="M164.8 213.9 163.5 213.9 162.8 213.4 161.2 210.1 157.2 196.9 155.5 187.8 153.6 183.6 153.1 180.1 152.0 178.7 149.8 177.9 146.8 178.5 131.5 186.9 127.9 187.6 125.5 189.2 124.0 189.5 122.8 188.9 122.4 187.1 123.1 184.4 124.6 181.9 126.8 179.7 128.8 178.2 141.0 172.2 147.5 169.7 151.5 169.4 154.0 170.0 155.8 170.8 157.8 172.4 159.4 174.4 160.7 176.6 161.7 179.6 162.5 182.6 162.8 186.1 164.2 182.9 165.9 180.9 167.5 179.5 170.5 178.0 179.3 174.9 183.8 172.2 186.0 171.2 189.3 170.5 191.8 170.5 193.8 171.0 197.0 172.8 198.3 172.9 200.5 171.7 202.8 169.0 204.3 167.8 207.0 166.3 212.2 164.1 225.1 164.1 227.5 165.1 227.5 180.8 216.3 180.9 199.0 183.2 197.5 183.7 193.5 186.0 189.5 186.7 187.3 186.6 185.3 186.0 181.0 183.3 175.0 182.7 173.6 183.4 166.6 189.9 165.0 190.5 163.3 190.5 163.1 192.4 163.9 195.9 164.5 200.3 167.1 210.6 167.0 211.9 166.5 213.0 164.8 213.9Z"/>
<path fill="#bad8eb" fill-rule="evenodd" d="M165.3 190.2 164.3 190.1 163.6 189.4 163.4 188.1 163.6 186.4 164.6 183.6 166.9 180.9 170.5 178.7 180.1 175.4 185.5 172.3 188.8 171.4 191.3 171.3 194.0 171.9 197.3 173.4 198.8 173.4 200.8 172.4 204.6 168.9 207.8 167.0 212.3 165.5 217.0 164.8 220.3 164.8 225.0 165.8 227.5 166.7 227.5 179.2 225.5 179.6 219.3 179.5 215.0 179.8 199.5 182.0 197.5 182.6 193.3 185.2 189.8 185.9 187.5 185.8 185.5 185.3 181.3 182.4 175.0 182.5 173.8 183.0 170.1 185.9 166.7 189.4 165.3 190.2ZM164.5 213.1 163.5 213.1 162.8 212.6 161.4 209.9 157.5 196.6 155.8 187.7 153.9 183.1 153.3 180.1 152.2 178.6 151.0 178.0 149.8 177.8 147.0 178.3 131.8 186.5 130.5 186.8 127.8 186.9 125.3 188.6 124.3 188.8 123.3 188.1 123.2 186.6 123.9 184.4 125.1 182.4 127.8 179.8 130.3 178.2 141.5 172.8 147.3 170.6 149.5 170.1 152.0 170.2 154.3 170.8 156.3 172.0 158.2 173.9 159.6 176.1 160.6 178.6 161.7 182.9 162.8 192.2 163.6 196.1 163.9 199.4 166.7 210.6 166.2 212.4 164.5 213.1Z"/>
<path fill="#8dbddd" fill-rule="evenodd" d="M165.5 189.7 164.5 189.7 164.0 189.1 164.0 186.4 165.2 183.6 167.4 181.1 170.5 179.2 180.2 175.9 185.5 172.8 188.8 172.0 191.3 171.8 194.0 172.4 198.3 174.3 200.3 174.4 202.3 173.2 204.9 169.9 207.0 168.2 210.3 166.7 214.5 165.8 218.0 165.6 220.5 166.0 223.9 167.4 225.0 168.5 225.3 170.6 225.0 173.6 224.5 176.2 223.8 176.9 213.5 178.6 203.3 179.2 200.0 180.4 193.8 184.5 190.5 185.3 188.0 185.3 185.8 184.8 181.3 181.9 174.8 182.4 173.6 182.9 169.6 185.6 165.5 189.7ZM165.0 212.4 163.3 212.4 162.5 211.6 161.9 210.1 157.7 196.6 156.0 187.6 153.5 180.1 152.3 178.4 150.0 177.6 147.0 178.1 132.0 186.1 130.8 186.4 127.8 186.5 124.5 188.1 123.8 187.4 123.8 186.1 124.4 184.4 125.3 182.9 127.8 180.4 130.3 178.7 141.5 173.3 146.8 171.2 149.0 170.6 151.3 170.6 153.8 171.1 155.8 172.2 157.8 174.1 159.3 176.6 161.5 183.6 163.6 199.4 166.3 210.4 166.0 211.7 165.0 212.4Z"/>
<path fill="#5c9ccc" fill-rule="evenodd" d="M213.8 177.1 209.3 177.0 206.5 175.6 205.5 174.4 204.9 172.9 205.1 171.4 205.8 170.1 207.1 168.9 209.0 167.8 213.5 166.5 218.8 166.4 220.5 166.8 221.8 167.6 222.8 168.9 223.1 170.4 222.8 172.1 221.9 173.6 220.5 174.8 218.8 175.8 216.0 176.7 213.8 177.1ZM164.8 211.9 163.8 212.0 163.1 211.6 162.0 209.5 159.2 199.4 158.0 196.6 156.4 187.9 153.8 180.1 152.3 178.2 150.0 177.4 147.3 177.7 143.5 179.5 132.0 185.8 130.8 186.1 127.8 186.0 124.8 187.1 124.4 186.6 124.5 185.6 125.6 183.1 128.0 180.7 130.5 179.1 141.5 173.8 147.0 171.6 149.0 171.0 151.3 171.0 153.5 171.5 155.5 172.5 157.3 174.2 158.9 176.6 161.2 184.1 161.6 188.4 163.0 196.1 163.2 199.6 165.8 210.1 165.6 211.4 164.8 211.9ZM165.5 189.2 164.8 189.2 164.4 188.6 164.5 186.1 165.7 183.6 167.8 181.3 171.0 179.5 180.0 176.4 185.0 173.4 189.5 172.3 192.3 172.4 194.5 173.1 197.3 174.5 198.3 175.2 198.9 176.1 199.2 178.4 198.4 180.4 195.0 183.2 193.0 184.3 189.8 184.9 186.8 184.6 185.0 183.9 182.4 181.9 181.3 181.4 174.8 182.1 173.5 182.6 169.5 185.2 165.5 189.2Z"/>
<path fill="#3c7eba" fill-rule="evenodd" d="M214.0 176.4 210.0 176.4 207.3 175.3 206.2 174.1 205.7 172.9 205.7 171.6 206.3 170.4 207.5 169.2 209.3 168.2 213.8 167.0 218.5 166.9 220.0 167.3 221.3 168.0 222.1 169.1 222.4 170.4 222.1 171.9 221.4 173.1 218.5 175.1 214.0 176.4ZM164.8 211.1 163.5 211.1 162.5 209.4 159.6 199.4 158.3 196.6 156.7 187.9 155.6 185.4 154.1 180.1 152.5 178.0 151.3 177.4 149.8 177.1 146.5 177.7 131.5 185.6 128.0 185.6 125.3 186.2 125.1 185.1 125.9 183.4 128.3 181.0 130.8 179.4 141.8 174.1 147.0 172.0 149.3 171.4 151.3 171.4 153.5 171.9 155.3 172.8 157.0 174.5 158.6 176.9 161.0 184.4 161.3 188.6 162.8 196.1 162.7 199.6 165.2 209.9 164.8 211.1ZM165.5 188.5 165.0 188.4 164.7 187.9 165.1 185.6 166.4 183.4 168.3 181.4 171.1 179.9 180.0 176.8 185.0 173.7 189.5 172.7 192.3 172.9 194.3 173.5 196.5 174.6 197.6 175.4 198.2 176.4 198.4 178.4 197.8 180.1 195.0 182.6 192.8 183.9 189.8 184.5 187.0 184.3 185.3 183.6 182.7 181.6 181.3 181.1 174.8 181.9 173.5 182.3 169.6 184.6 165.5 188.5Z"/>
<path fill="#2166ac" fill-rule="evenodd" d="M213.0 175.9 209.5 175.7 207.3 174.5 206.5 173.5 206.3 172.4 206.5 171.2 207.3 170.2 210.0 168.5 214.5 167.5 218.8 167.5 220.0 167.9 221.0 168.7 221.6 169.6 221.7 170.9 221.3 172.1 220.5 173.1 217.3 175.0 213.0 175.9ZM161.3 200.0 159.3 197.9 158.6 196.6 157.2 188.6 155.8 185.4 154.6 180.4 153.4 178.4 151.8 177.2 149.3 176.7 146.0 177.6 131.8 185.1 126.3 185.3 125.9 184.9 126.1 184.1 127.7 182.1 130.3 180.1 142.7 174.1 149.0 171.9 151.5 171.9 153.8 172.5 156.0 174.0 157.8 176.4 158.8 178.4 160.8 184.6 161.0 188.6 162.5 196.4 161.3 200.0ZM166.0 187.2 165.5 187.2 165.4 186.6 166.0 184.9 167.3 183.0 168.8 181.6 171.3 180.3 179.8 177.3 185.0 174.1 189.8 173.2 192.3 173.4 196.0 174.9 197.0 175.6 197.7 176.6 197.8 178.4 197.1 180.1 194.5 182.4 192.3 183.6 189.5 184.0 187.0 183.8 185.4 183.1 182.3 181.0 180.0 180.7 173.5 181.9 169.5 184.2 166.0 187.2Z"/>
<circle cx="128.7" cy="188.9" r="4.4" fill="#fff"/>
<circle cx="169.3" cy="189.6" r="4.4" fill="#fff"/>
</g>
<text x="371.2" y="54.6" font-size="8" class="t" fill="#18e4f0">B<tspan font-size="4.6" dy="1.2">2</tspan><tspan dy="-1.2">+D</tspan><tspan font-size="4.6" dy="1.2">1</tspan></text>
<text x="361.8" y="64.4" font-size="8" class="t" fill="#18e4f0">C<tspan font-size="4.6" dy="1.2">2</tspan></text>
<text x="410.0" y="51.0" font-size="8" class="t" fill="#18e4f0">B<tspan font-size="4.6" dy="1.2">1</tspan></text>
<text x="394.0" y="74.0" font-size="8" class="t" fill="#18e4f0">A<tspan font-size="4.6" dy="1.2">1</tspan><tspan dy="-1.2">+C</tspan><tspan font-size="4.6" dy="1.2">1</tspan></text>
<text x="379.6" y="110.0" font-size="8" class="t" fill="#18e4f0">B<tspan font-size="4.6" dy="1.2">2</tspan><tspan dy="-1.2">+D</tspan><tspan font-size="4.6" dy="1.2">1</tspan></text>
<text x="362.0" y="123.4" font-size="8" class="t" fill="#18e4f0">C<tspan font-size="4.6" dy="1.2">2</tspan></text>
<text x="416.6" y="107.2" font-size="8" class="t" fill="#18e4f0">B<tspan font-size="4.6" dy="1.2">1</tspan></text>
<text x="402.0" y="131.6" font-size="8" class="t" fill="#18e4f0">A<tspan font-size="4.6" dy="1.2">1</tspan><tspan dy="-1.2">+C</tspan><tspan font-size="4.6" dy="1.2">1</tspan></text>
<text x="361.4" y="169.8" font-size="8" class="t" fill="#18e4f0">D<tspan font-size="4.6" dy="1.2">2</tspan></text>
<text x="370.0" y="180.2" font-size="8" class="t" fill="#18e4f0">C<tspan font-size="4.6" dy="1.2">2</tspan></text>
<text x="385.6" y="163.4" font-size="8" class="t" fill="#18e4f0">B<tspan font-size="4.6" dy="1.2">2</tspan><tspan dy="-1.2">+D</tspan><tspan font-size="4.6" dy="1.2">1</tspan></text>
<text x="415.2" y="186.8" font-size="8" class="t" fill="#18e4f0">A<tspan font-size="4.6" dy="1.2">1</tspan><tspan dy="-1.2">+C</tspan><tspan font-size="4.6" dy="1.2">1</tspan></text>
<rect x="232.5" y="34.8" width="18.4" height="14.1" fill="#78f2f6"/>
<text x="236.1" y="46.1" font-size="9.8" textLength="11.5" lengthAdjust="spacingAndGlyphs" class="t">OS</text>
<rect x="341.6" y="34.4" width="25.4" height="13.5" fill="#78f2f6"/>
<text x="345.6" y="44.0" font-size="9.8" textLength="17.4" lengthAdjust="spacingAndGlyphs" class="t">AR<tspan font-size="6" dy="1">M</tspan></text>
<rect x="232.5" y="89.6" width="18.7" height="13.6" fill="#78f2f6"/>
<text x="235.7" y="100.6" font-size="9.8" textLength="12.5" lengthAdjust="spacingAndGlyphs" class="t">CR</text>
<rect x="232.5" y="143.7" width="25.2" height="13.6" fill="#78f2f6"/>
<text x="236.9" y="154.4" font-size="9.8" textLength="16.1" lengthAdjust="spacingAndGlyphs" class="t">AR<tspan font-size="6" dy="1">S</tspan></text>
<rect x="12.2" y="163.9" width="25.2" height="13.8" fill="#78f2f6"/>
<text x="16.1" y="173.8" font-size="9.8" textLength="17.5" lengthAdjust="spacingAndGlyphs" class="t">QCS</text>
<rect x="121.4" y="164.0" width="19.0" height="13.6" fill="#78f2f6"/>
<text x="126.2" y="174.2" font-size="9.8" textLength="10.7" lengthAdjust="spacingAndGlyphs" class="t">CS</text>
<text x="443.9" y="41.2" font-size="8.4" class="t" fill="#f40a14">i</text>
<text x="440.6" y="96.8" font-size="8.4" class="t" fill="#f40a14">ii</text>
<text x="437.8" y="151.4" font-size="8.4" class="t" fill="#f40a14">iii</text><rect x="313.50" y="198.6" width="6.25" height="9.2" fill="#2166ac"/>
<rect x="319.70" y="198.6" width="12.13" height="9.2" fill="#4a8cc2"/>
<rect x="331.78" y="198.6" width="12.13" height="9.2" fill="#76acd5"/>
<rect x="343.86" y="198.6" width="12.13" height="9.2" fill="#a7cbe4"/>
<rect x="355.94" y="198.6" width="12.13" height="9.2" fill="#d2e5f1"/>
<rect x="368.02" y="198.6" width="12.13" height="9.2" fill="#eef5fa"/>
<rect x="380.10" y="198.6" width="12.13" height="9.2" fill="#fdefe7"/>
<rect x="392.18" y="198.6" width="12.13" height="9.2" fill="#fcd6c3"/>
<rect x="404.26" y="198.6" width="12.13" height="9.2" fill="#f6ae90"/>
<rect x="416.34" y="198.6" width="12.13" height="9.2" fill="#e7795d"/>
<rect x="428.42" y="198.6" width="12.13" height="9.2" fill="#cc4540"/>
<rect x="440.50" y="198.6" width="6.35" height="9.2" fill="#b2182b"/>
<rect x="313.5" y="198.6" width="133.3" height="9.2" fill="none" stroke="#999" stroke-width="0.4"/>
<text x="319.70" y="215.6" font-size="6.3" class="t" text-anchor="middle">-1</text>
<text x="331.78" y="215.6" font-size="6.3" class="t" text-anchor="middle">-0.8</text>
<text x="343.86" y="215.6" font-size="6.3" class="t" text-anchor="middle">-0.6</text>
<text x="355.94" y="215.6" font-size="6.3" class="t" text-anchor="middle">-0.4</text>
<text x="368.02" y="215.6" font-size="6.3" class="t" text-anchor="middle">-0.2</text>
<text x="380.10" y="215.6" font-size="6.3" class="t" text-anchor="middle">0</text>
<text x="392.18" y="215.6" font-size="6.3" class="t" text-anchor="middle">0.2</text>
<text x="404.26" y="215.6" font-size="6.3" class="t" text-anchor="middle">0.4</text>
<text x="416.34" y="215.6" font-size="6.3" class="t" text-anchor="middle">0.6</text>
<text x="428.42" y="215.6" font-size="6.3" class="t" text-anchor="middle">0.8</text>
<text x="440.50" y="215.6" font-size="6.3" class="t" text-anchor="middle">1</text>
<text x="297.4" y="207.6" font-size="12.4" class="t" font-style="italic">&#969;<tspan font-size="7.4" dx="0.6" dy="1.8">z</tspan></text></svg>
</body></html>
